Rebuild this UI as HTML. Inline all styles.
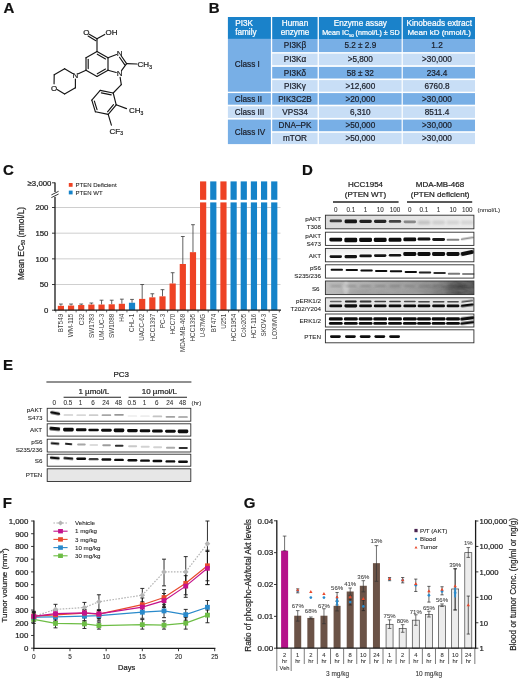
<!DOCTYPE html>
<html lang="en"><head><meta charset="utf-8"><title>Figure</title>
<style>
html,body{margin:0;padding:0;background:#fff;}
body{width:520px;height:678px;overflow:hidden;position:relative;}
svg{position:absolute;left:0;top:0;display:block;}
svg text{font-family:"Liberation Sans", Arial, Helvetica, sans-serif;}
</style></head><body>
<svg width="520" height="678" viewBox="0 0 520 678">
<defs>
<filter id="bl" x="-20%" y="-80%" width="140%" height="260%"><feGaussianBlur stdDeviation="0.55"/></filter>
<filter id="bl2" x="-20%" y="-80%" width="140%" height="260%"><feGaussianBlur stdDeviation="0.9"/></filter>
<filter id="bl3" x="-20%" y="-50%" width="140%" height="200%"><feGaussianBlur stdDeviation="3"/></filter>
<filter id="noise" x="0" y="0" width="100%" height="100%"><feTurbulence type="fractalNoise" baseFrequency="0.07 0.16" numOctaves="3" seed="7" result="n"/><feColorMatrix in="n" type="matrix" values="0 0 0 0 0.45  0 0 0 0 0.45  0 0 0 0 0.45  1.6 0 0 0 -0.55"/></filter>
</defs>
<rect width="520" height="678" fill="#fff"/>
<g id="panelA">
<text x="3.5" y="13.3" font-size="15" text-anchor="start" fill="#111" stroke="#111" stroke-width="0.22" font-weight="bold">A</text>
<g stroke="#161616" stroke-width="1.15" fill="none" stroke-linecap="round">
<path d="M97.00 51.50L108.00 57.80"/>
<path d="M97.30 54.20L105.52 58.91"/>
<path d="M108.00 57.80L108.00 70.20"/>
<path d="M108.00 70.20L97.00 76.50"/>
<path d="M105.52 69.09L97.30 73.80"/>
<path d="M97.00 76.50L86.00 70.20"/>
<path d="M86.00 70.20L86.00 57.80"/>
<path d="M88.20 68.60L88.20 59.40"/>
<path d="M86.00 57.80L97.00 51.50"/>
<path d="M97.00 51.50L97.00 38.80"/>
<path d="M97.00 38.80L89.23 34.23"/>
<path d="M95.88 40.70L88.11 36.12"/>
<path d="M97.00 38.80L104.72 34.39"/>
<path d="M108.00 57.80L116.51 54.54"/>
<path d="M121.33 56.03L126.60 63.60"/>
<path d="M119.52 57.28L124.79 64.86"/>
<path d="M126.60 63.60L121.49 70.65"/>
<path d="M116.22 72.49L108.00 70.20"/>
<path d="M126.60 63.60L137.00 64.00"/>
<path d="M86.00 70.20L78.32 73.68"/>
<path d="M72.64 73.39L64.60 68.70"/>
<path d="M64.60 68.70L54.20 74.80"/>
<path d="M54.20 74.80L54.06 83.80"/>
<path d="M57.11 89.62L64.60 94.00"/>
<path d="M64.60 94.00L75.40 87.80"/>
<path d="M75.40 87.80L75.40 79.00"/>
<path d="M120.13 77.35L121.30 84.60"/>
<path d="M121.30 84.60L113.20 93.00"/>
<path d="M113.20 93.00L100.20 90.40"/>
<path d="M111.20 94.84L101.34 92.87"/>
<path d="M100.20 90.40L91.80 100.20"/>
<path d="M91.80 100.20L95.40 111.80"/>
<path d="M94.38 101.08L97.03 109.62"/>
<path d="M95.40 111.80L108.20 114.40"/>
<path d="M108.20 114.40L116.20 104.80"/>
<path d="M107.53 111.76L113.49 104.62"/>
<path d="M116.20 104.80L113.20 93.00"/>
<path d="M116.20 104.80L126.50 108.60"/>
<path d="M108.20 114.40L111.40 125.20"/>
</g>
<text x="86.3" y="35.4" font-size="8" text-anchor="middle" fill="#222" stroke="#222" stroke-width="0.22">O</text>
<text x="105.6" y="35.2" font-size="8" text-anchor="start" fill="#222" stroke="#222" stroke-width="0.22">OH</text>
<text x="119.6" y="56.3" font-size="8" text-anchor="middle" fill="#222" stroke="#222" stroke-width="0.22">N</text>
<text x="119.6" y="76.4" font-size="8" text-anchor="middle" fill="#222" stroke="#222" stroke-width="0.22">N</text>
<text x="75.5" y="78.0" font-size="8" text-anchor="middle" fill="#222" stroke="#222" stroke-width="0.22">N</text>
<text x="54.0" y="90.9" font-size="8" text-anchor="middle" fill="#222" stroke="#222" stroke-width="0.22">O</text>
<text x="137.6" y="67.2" font-size="8" text-anchor="start" fill="#222" stroke="#222" stroke-width="0.22">CH<tspan font-size="5" dy="1.6">3</tspan></text>
<text x="129.0" y="113.4" font-size="8" text-anchor="start" fill="#222" stroke="#222" stroke-width="0.22">CH<tspan font-size="5" dy="1.6">3</tspan></text>
<text x="109.6" y="133.8" font-size="8" text-anchor="start" fill="#222" stroke="#222" stroke-width="0.22">CF<tspan font-size="5" dy="1.6">3</tspan></text>
</g>
<g id="panelB">
<text x="208.7" y="12.9" font-size="15" text-anchor="start" fill="#111" stroke="#111" stroke-width="0.22" font-weight="bold">B</text>
<rect x="227.90" y="17.00" width="43.00" height="22.00" fill="#1a82ca"/>
<rect x="272.20" y="17.00" width="45.40" height="22.00" fill="#1a82ca"/>
<rect x="318.90" y="17.00" width="82.70" height="22.00" fill="#1a82ca"/>
<rect x="402.80" y="17.00" width="72.20" height="22.00" fill="#1a82ca"/>
<text x="235.2" y="25.5" font-size="8.2" text-anchor="start" fill="#fff" stroke="#fff" stroke-width="0.22">PI3K</text>
<text x="235.2" y="35.3" font-size="8.2" text-anchor="start" fill="#fff" stroke="#fff" stroke-width="0.22">family</text>
<text x="295.0" y="25.5" font-size="8.2" text-anchor="middle" fill="#fff" stroke="#fff" stroke-width="0.22">Human</text>
<text x="295.0" y="35.3" font-size="8.2" text-anchor="middle" fill="#fff" stroke="#fff" stroke-width="0.22">enzyme</text>
<text x="360.3" y="25.5" font-size="8.2" text-anchor="middle" fill="#fff" stroke="#fff" stroke-width="0.22">Enzyme assay</text>
<text x="360.9" y="35.3" font-size="7.15" text-anchor="middle" fill="#fff" stroke="#fff" stroke-width="0.22">Mean IC<tspan font-size="4" dy="1.2">50</tspan><tspan dy="-1.2"> (nmol/L) ± SD</tspan></text>
<text x="439.2" y="25.5" font-size="8.2" text-anchor="middle" fill="#fff" stroke="#fff" stroke-width="0.22">Kinobeads extract</text>
<text x="439.2" y="35.3" font-size="8.0" text-anchor="middle" fill="#fff" stroke="#fff" stroke-width="0.22">Mean kD (nmol/L)</text>
<rect x="227.90" y="38.80" width="43.00" height="52.90" fill="#78afe6"/>
<rect x="227.90" y="93.10" width="43.00" height="11.60" fill="#78afe6"/>
<rect x="227.90" y="106.30" width="43.00" height="11.60" fill="#c8def6"/>
<rect x="227.90" y="119.60" width="43.00" height="24.50" fill="#78afe6"/>
<text x="234.8" y="67.3" font-size="8.2" text-anchor="start" fill="#1b1f2a" stroke="#1b1f2a" stroke-width="0.22">Class I</text>
<text x="234.8" y="101.9" font-size="8.2" text-anchor="start" fill="#1b1f2a" stroke="#1b1f2a" stroke-width="0.22">Class II</text>
<text x="234.8" y="115.1" font-size="8.2" text-anchor="start" fill="#1b1f2a" stroke="#1b1f2a" stroke-width="0.22">Class III</text>
<text x="234.8" y="134.9" font-size="8.2" text-anchor="start" fill="#1b1f2a" stroke="#1b1f2a" stroke-width="0.22">Class IV</text>
<rect x="272.20" y="39.00" width="45.40" height="13.10" fill="#78afe6"/>
<rect x="318.90" y="39.00" width="82.70" height="13.10" fill="#78afe6"/>
<rect x="402.80" y="39.00" width="72.20" height="13.10" fill="#78afe6"/>
<text x="295.0" y="48.449999999999996" font-size="8.2" text-anchor="middle" fill="#1b1f2a" stroke="#1b1f2a" stroke-width="0.22">PI3Kβ</text>
<text x="360.3" y="48.449999999999996" font-size="8.2" text-anchor="middle" fill="#1b1f2a" stroke="#1b1f2a" stroke-width="0.22">5.2 ± 2.9</text>
<text x="437.0" y="48.449999999999996" font-size="8.2" text-anchor="middle" fill="#1b1f2a" stroke="#1b1f2a" stroke-width="0.22">1.2</text>
<rect x="272.20" y="53.60" width="45.40" height="11.60" fill="#c8def6"/>
<rect x="318.90" y="53.60" width="82.70" height="11.60" fill="#c8def6"/>
<rect x="402.80" y="53.60" width="72.20" height="11.60" fill="#c8def6"/>
<text x="295.0" y="62.3" font-size="8.2" text-anchor="middle" fill="#1b1f2a" stroke="#1b1f2a" stroke-width="0.22">PI3Kα</text>
<text x="360.3" y="62.3" font-size="8.2" text-anchor="middle" fill="#1b1f2a" stroke="#1b1f2a" stroke-width="0.22">&gt;5,800</text>
<text x="437.0" y="62.3" font-size="8.2" text-anchor="middle" fill="#1b1f2a" stroke="#1b1f2a" stroke-width="0.22">&gt;30,000</text>
<rect x="272.20" y="66.90" width="45.40" height="11.60" fill="#78afe6"/>
<rect x="318.90" y="66.90" width="82.70" height="11.60" fill="#78afe6"/>
<rect x="402.80" y="66.90" width="72.20" height="11.60" fill="#78afe6"/>
<text x="295.0" y="75.60000000000001" font-size="8.2" text-anchor="middle" fill="#1b1f2a" stroke="#1b1f2a" stroke-width="0.22">PI3Kδ</text>
<text x="360.3" y="75.60000000000001" font-size="8.2" text-anchor="middle" fill="#1b1f2a" stroke="#1b1f2a" stroke-width="0.22">58 ± 32</text>
<text x="437.0" y="75.60000000000001" font-size="8.2" text-anchor="middle" fill="#1b1f2a" stroke="#1b1f2a" stroke-width="0.22">234.4</text>
<rect x="272.20" y="80.10" width="45.40" height="11.60" fill="#c8def6"/>
<rect x="318.90" y="80.10" width="82.70" height="11.60" fill="#c8def6"/>
<rect x="402.80" y="80.10" width="72.20" height="11.60" fill="#c8def6"/>
<text x="295.0" y="88.8" font-size="8.2" text-anchor="middle" fill="#1b1f2a" stroke="#1b1f2a" stroke-width="0.22">PI3Kγ</text>
<text x="360.3" y="88.8" font-size="8.2" text-anchor="middle" fill="#1b1f2a" stroke="#1b1f2a" stroke-width="0.22">&gt;12,600</text>
<text x="437.0" y="88.8" font-size="8.2" text-anchor="middle" fill="#1b1f2a" stroke="#1b1f2a" stroke-width="0.22">6760.8</text>
<rect x="272.20" y="93.10" width="45.40" height="11.60" fill="#78afe6"/>
<rect x="318.90" y="93.10" width="82.70" height="11.60" fill="#78afe6"/>
<rect x="402.80" y="93.10" width="72.20" height="11.60" fill="#78afe6"/>
<text x="295.0" y="101.8" font-size="8.2" text-anchor="middle" fill="#1b1f2a" stroke="#1b1f2a" stroke-width="0.22">PIK3C2B</text>
<text x="360.3" y="101.8" font-size="8.2" text-anchor="middle" fill="#1b1f2a" stroke="#1b1f2a" stroke-width="0.22">&gt;20,000</text>
<text x="437.0" y="101.8" font-size="8.2" text-anchor="middle" fill="#1b1f2a" stroke="#1b1f2a" stroke-width="0.22">&gt;30,000</text>
<rect x="272.20" y="106.30" width="45.40" height="11.60" fill="#c8def6"/>
<rect x="318.90" y="106.30" width="82.70" height="11.60" fill="#c8def6"/>
<rect x="402.80" y="106.30" width="72.20" height="11.60" fill="#c8def6"/>
<text x="295.0" y="115.0" font-size="8.2" text-anchor="middle" fill="#1b1f2a" stroke="#1b1f2a" stroke-width="0.22">VPS34</text>
<text x="360.3" y="115.0" font-size="8.2" text-anchor="middle" fill="#1b1f2a" stroke="#1b1f2a" stroke-width="0.22">6,310</text>
<text x="437.0" y="115.0" font-size="8.2" text-anchor="middle" fill="#1b1f2a" stroke="#1b1f2a" stroke-width="0.22">8511.4</text>
<rect x="272.20" y="119.60" width="45.40" height="11.60" fill="#78afe6"/>
<rect x="318.90" y="119.60" width="82.70" height="11.60" fill="#78afe6"/>
<rect x="402.80" y="119.60" width="72.20" height="11.60" fill="#78afe6"/>
<text x="295.0" y="128.29999999999998" font-size="8.2" text-anchor="middle" fill="#1b1f2a" stroke="#1b1f2a" stroke-width="0.22">DNA–PK</text>
<text x="360.3" y="128.29999999999998" font-size="8.2" text-anchor="middle" fill="#1b1f2a" stroke="#1b1f2a" stroke-width="0.22">&gt;50,000</text>
<text x="437.0" y="128.29999999999998" font-size="8.2" text-anchor="middle" fill="#1b1f2a" stroke="#1b1f2a" stroke-width="0.22">&gt;30,000</text>
<rect x="272.20" y="132.80" width="45.40" height="11.30" fill="#c8def6"/>
<rect x="318.90" y="132.80" width="82.70" height="11.30" fill="#c8def6"/>
<rect x="402.80" y="132.80" width="72.20" height="11.30" fill="#c8def6"/>
<text x="295.0" y="141.35000000000002" font-size="8.2" text-anchor="middle" fill="#1b1f2a" stroke="#1b1f2a" stroke-width="0.22">mTOR</text>
<text x="360.3" y="141.35000000000002" font-size="8.2" text-anchor="middle" fill="#1b1f2a" stroke="#1b1f2a" stroke-width="0.22">&gt;50,000</text>
<text x="437.0" y="141.35000000000002" font-size="8.2" text-anchor="middle" fill="#1b1f2a" stroke="#1b1f2a" stroke-width="0.22">&gt;30,000</text>
</g>
<g id="panelC">
<text x="3.1" y="174.7" font-size="15" text-anchor="start" fill="#111" stroke="#111" stroke-width="0.22" font-weight="bold">C</text>
<line x1="55.0" y1="284.525" x2="280.5" y2="284.525" stroke="#c2c2c2" stroke-width="0.8"/>
<line x1="55.0" y1="258.85" x2="280.5" y2="258.85" stroke="#c2c2c2" stroke-width="0.8"/>
<line x1="55.0" y1="233.175" x2="280.5" y2="233.175" stroke="#c2c2c2" stroke-width="0.8"/>
<line x1="55.0" y1="207.5" x2="280.5" y2="207.5" stroke="#c2c2c2" stroke-width="0.8"/>
<line x1="60.90" y1="305.84" x2="60.90" y2="304.04" stroke="#3a3a3a" stroke-width="0.8"/>
<line x1="59.00" y1="304.04" x2="62.80" y2="304.04" stroke="#3a3a3a" stroke-width="0.8"/>
<rect x="57.80" y="305.84" width="6.20" height="4.36" fill="#ee4224"/>
<text transform="translate(63.20 313.8) rotate(-90)" font-size="6.3" text-anchor="end" fill="#3a3a3a">BT549</text>
<line x1="71.06" y1="305.58" x2="71.06" y2="304.04" stroke="#3a3a3a" stroke-width="0.8"/>
<line x1="69.16" y1="304.04" x2="72.96" y2="304.04" stroke="#3a3a3a" stroke-width="0.8"/>
<rect x="67.96" y="305.58" width="6.20" height="4.62" fill="#ee4224"/>
<text transform="translate(73.36 313.8) rotate(-90)" font-size="6.3" text-anchor="end" fill="#3a3a3a">WM-115</text>
<line x1="81.22" y1="305.06" x2="81.22" y2="304.04" stroke="#3a3a3a" stroke-width="0.8"/>
<line x1="79.32" y1="304.04" x2="83.12" y2="304.04" stroke="#3a3a3a" stroke-width="0.8"/>
<rect x="78.12" y="305.06" width="6.20" height="5.13" fill="#ee4224"/>
<text transform="translate(83.52 313.8) rotate(-90)" font-size="6.3" text-anchor="end" fill="#3a3a3a">C32</text>
<line x1="91.38" y1="304.55" x2="91.38" y2="303.01" stroke="#3a3a3a" stroke-width="0.8"/>
<line x1="89.48" y1="303.01" x2="93.28" y2="303.01" stroke="#3a3a3a" stroke-width="0.8"/>
<rect x="88.28" y="304.55" width="6.20" height="5.65" fill="#ee4224"/>
<text transform="translate(93.68 313.8) rotate(-90)" font-size="6.3" text-anchor="end" fill="#3a3a3a">SW1783</text>
<line x1="101.54" y1="304.55" x2="101.54" y2="300.19" stroke="#3a3a3a" stroke-width="0.8"/>
<line x1="99.64" y1="300.19" x2="103.44" y2="300.19" stroke="#3a3a3a" stroke-width="0.8"/>
<rect x="98.44" y="304.55" width="6.20" height="5.65" fill="#ee4224"/>
<text transform="translate(103.84 313.8) rotate(-90)" font-size="6.3" text-anchor="end" fill="#3a3a3a">UM-UC-3</text>
<line x1="111.70" y1="304.29" x2="111.70" y2="300.19" stroke="#3a3a3a" stroke-width="0.8"/>
<line x1="109.80" y1="300.19" x2="113.60" y2="300.19" stroke="#3a3a3a" stroke-width="0.8"/>
<rect x="108.60" y="304.29" width="6.20" height="5.91" fill="#ee4224"/>
<text transform="translate(114.00 313.8) rotate(-90)" font-size="6.3" text-anchor="end" fill="#3a3a3a">SW1088</text>
<line x1="121.86" y1="303.78" x2="121.86" y2="299.16" stroke="#3a3a3a" stroke-width="0.8"/>
<line x1="119.96" y1="299.16" x2="123.76" y2="299.16" stroke="#3a3a3a" stroke-width="0.8"/>
<rect x="118.76" y="303.78" width="6.20" height="6.42" fill="#ee4224"/>
<text transform="translate(124.16 313.8) rotate(-90)" font-size="6.3" text-anchor="end" fill="#3a3a3a">H4</text>
<line x1="132.02" y1="302.75" x2="132.02" y2="299.42" stroke="#3a3a3a" stroke-width="0.8"/>
<line x1="130.12" y1="299.42" x2="133.92" y2="299.42" stroke="#3a3a3a" stroke-width="0.8"/>
<rect x="128.92" y="302.75" width="6.20" height="7.45" fill="#1583c9"/>
<text transform="translate(134.32 313.8) rotate(-90)" font-size="6.3" text-anchor="end" fill="#3a3a3a">CHL-1</text>
<line x1="142.18" y1="298.90" x2="142.18" y2="284.52" stroke="#3a3a3a" stroke-width="0.8"/>
<line x1="140.28" y1="284.52" x2="144.08" y2="284.52" stroke="#3a3a3a" stroke-width="0.8"/>
<rect x="139.08" y="298.90" width="6.20" height="11.30" fill="#ee4224"/>
<text transform="translate(144.48 313.8) rotate(-90)" font-size="6.3" text-anchor="end" fill="#3a3a3a">UACC-62</text>
<line x1="152.34" y1="297.36" x2="152.34" y2="293.77" stroke="#3a3a3a" stroke-width="0.8"/>
<line x1="150.44" y1="293.77" x2="154.24" y2="293.77" stroke="#3a3a3a" stroke-width="0.8"/>
<rect x="149.24" y="297.36" width="6.20" height="12.84" fill="#ee4224"/>
<text transform="translate(154.64 313.8) rotate(-90)" font-size="6.3" text-anchor="end" fill="#3a3a3a">HCC1397</text>
<line x1="162.50" y1="296.34" x2="162.50" y2="289.66" stroke="#3a3a3a" stroke-width="0.8"/>
<line x1="160.60" y1="289.66" x2="164.40" y2="289.66" stroke="#3a3a3a" stroke-width="0.8"/>
<rect x="159.40" y="296.34" width="6.20" height="13.86" fill="#ee4224"/>
<text transform="translate(164.80 313.8) rotate(-90)" font-size="6.3" text-anchor="end" fill="#3a3a3a">PC-3</text>
<line x1="172.66" y1="283.50" x2="172.66" y2="272.71" stroke="#3a3a3a" stroke-width="0.8"/>
<line x1="170.76" y1="272.71" x2="174.56" y2="272.71" stroke="#3a3a3a" stroke-width="0.8"/>
<rect x="169.56" y="283.50" width="6.20" height="26.70" fill="#ee4224"/>
<text transform="translate(174.96 313.8) rotate(-90)" font-size="6.3" text-anchor="end" fill="#3a3a3a">HCC70</text>
<line x1="182.82" y1="263.99" x2="182.82" y2="236.51" stroke="#3a3a3a" stroke-width="0.8"/>
<line x1="180.92" y1="236.51" x2="184.72" y2="236.51" stroke="#3a3a3a" stroke-width="0.8"/>
<rect x="179.72" y="263.99" width="6.20" height="46.21" fill="#ee4224"/>
<text transform="translate(185.12 313.8) rotate(-90)" font-size="6.3" text-anchor="end" fill="#3a3a3a">MDA-MB-468</text>
<line x1="192.98" y1="252.17" x2="192.98" y2="224.70" stroke="#3a3a3a" stroke-width="0.8"/>
<line x1="191.08" y1="224.70" x2="194.88" y2="224.70" stroke="#3a3a3a" stroke-width="0.8"/>
<rect x="189.88" y="252.17" width="6.20" height="58.03" fill="#ee4224"/>
<text transform="translate(195.28 313.8) rotate(-90)" font-size="6.3" text-anchor="end" fill="#3a3a3a">HCC1395</text>
<rect x="200.04" y="181.40" width="6.20" height="18.40" fill="#ee4224"/>
<rect x="200.04" y="202.40" width="6.20" height="107.80" fill="#ee4224"/>
<text transform="translate(205.44 313.8) rotate(-90)" font-size="6.3" text-anchor="end" fill="#3a3a3a">U-87MG</text>
<rect x="210.20" y="181.40" width="6.20" height="18.40" fill="#1583c9"/>
<rect x="210.20" y="202.40" width="6.20" height="107.80" fill="#1583c9"/>
<text transform="translate(215.60 313.8) rotate(-90)" font-size="6.3" text-anchor="end" fill="#3a3a3a">BT474</text>
<rect x="220.36" y="181.40" width="6.20" height="18.40" fill="#ee4224"/>
<rect x="220.36" y="202.40" width="6.20" height="107.80" fill="#ee4224"/>
<text transform="translate(225.76 313.8) rotate(-90)" font-size="6.3" text-anchor="end" fill="#3a3a3a">U251</text>
<rect x="230.52" y="181.40" width="6.20" height="18.40" fill="#1583c9"/>
<rect x="230.52" y="202.40" width="6.20" height="107.80" fill="#1583c9"/>
<text transform="translate(235.92 313.8) rotate(-90)" font-size="6.3" text-anchor="end" fill="#3a3a3a">HCC1954</text>
<rect x="240.68" y="181.40" width="6.20" height="18.40" fill="#1583c9"/>
<rect x="240.68" y="202.40" width="6.20" height="107.80" fill="#1583c9"/>
<text transform="translate(246.08 313.8) rotate(-90)" font-size="6.3" text-anchor="end" fill="#3a3a3a">Colo205</text>
<rect x="250.84" y="181.40" width="6.20" height="18.40" fill="#1583c9"/>
<rect x="250.84" y="202.40" width="6.20" height="107.80" fill="#1583c9"/>
<text transform="translate(256.24 313.8) rotate(-90)" font-size="6.3" text-anchor="end" fill="#3a3a3a">HCT-116</text>
<rect x="261.00" y="181.40" width="6.20" height="18.40" fill="#1583c9"/>
<rect x="261.00" y="202.40" width="6.20" height="107.80" fill="#1583c9"/>
<text transform="translate(266.40 313.8) rotate(-90)" font-size="6.3" text-anchor="end" fill="#3a3a3a">SKOV-3</text>
<rect x="271.16" y="181.40" width="6.20" height="18.40" fill="#1583c9"/>
<rect x="271.16" y="202.40" width="6.20" height="107.80" fill="#1583c9"/>
<text transform="translate(276.56 313.8) rotate(-90)" font-size="6.3" text-anchor="end" fill="#3a3a3a">LOXIMVI</text>
<line x1="55.0" y1="182.4" x2="55.0" y2="310.8" stroke="#1a1a1a" stroke-width="1.3"/>
<line x1="54.4" y1="310.2" x2="281" y2="310.2" stroke="#1a1a1a" stroke-width="1.3"/>
<line x1="52.0" y1="310.2" x2="55.0" y2="310.2" stroke="#222" stroke-width="0.9"/>
<text x="48.4" y="313.0" font-size="7.8" text-anchor="end" fill="#222" stroke="#222" stroke-width="0.22">0</text>
<line x1="52.0" y1="284.525" x2="55.0" y2="284.525" stroke="#222" stroke-width="0.9"/>
<text x="48.4" y="287.325" font-size="7.8" text-anchor="end" fill="#222" stroke="#222" stroke-width="0.22">50</text>
<line x1="52.0" y1="258.85" x2="55.0" y2="258.85" stroke="#222" stroke-width="0.9"/>
<text x="48.4" y="261.65000000000003" font-size="7.8" text-anchor="end" fill="#222" stroke="#222" stroke-width="0.22">100</text>
<line x1="52.0" y1="233.175" x2="55.0" y2="233.175" stroke="#222" stroke-width="0.9"/>
<text x="48.4" y="235.97500000000002" font-size="7.8" text-anchor="end" fill="#222" stroke="#222" stroke-width="0.22">150</text>
<line x1="52.0" y1="207.5" x2="55.0" y2="207.5" stroke="#222" stroke-width="0.9"/>
<text x="48.4" y="210.3" font-size="7.8" text-anchor="end" fill="#222" stroke="#222" stroke-width="0.22">200</text>
<line x1="52.0" y1="182.8" x2="55.0" y2="182.8" stroke="#222" stroke-width="0.9"/>
<text x="51.4" y="185.6" font-size="7.8" text-anchor="end" fill="#222" stroke="#222" stroke-width="0.22">≥3,000</text>
<line x1="55.82" y1="310.2" x2="55.82" y2="312.4" stroke="#222" stroke-width="0.7"/>
<line x1="65.98" y1="310.2" x2="65.98" y2="312.4" stroke="#222" stroke-width="0.7"/>
<line x1="76.14" y1="310.2" x2="76.14" y2="312.4" stroke="#222" stroke-width="0.7"/>
<line x1="86.30" y1="310.2" x2="86.30" y2="312.4" stroke="#222" stroke-width="0.7"/>
<line x1="96.46" y1="310.2" x2="96.46" y2="312.4" stroke="#222" stroke-width="0.7"/>
<line x1="106.62" y1="310.2" x2="106.62" y2="312.4" stroke="#222" stroke-width="0.7"/>
<line x1="116.78" y1="310.2" x2="116.78" y2="312.4" stroke="#222" stroke-width="0.7"/>
<line x1="126.94" y1="310.2" x2="126.94" y2="312.4" stroke="#222" stroke-width="0.7"/>
<line x1="137.10" y1="310.2" x2="137.10" y2="312.4" stroke="#222" stroke-width="0.7"/>
<line x1="147.26" y1="310.2" x2="147.26" y2="312.4" stroke="#222" stroke-width="0.7"/>
<line x1="157.42" y1="310.2" x2="157.42" y2="312.4" stroke="#222" stroke-width="0.7"/>
<line x1="167.58" y1="310.2" x2="167.58" y2="312.4" stroke="#222" stroke-width="0.7"/>
<line x1="177.74" y1="310.2" x2="177.74" y2="312.4" stroke="#222" stroke-width="0.7"/>
<line x1="187.90" y1="310.2" x2="187.90" y2="312.4" stroke="#222" stroke-width="0.7"/>
<line x1="198.06" y1="310.2" x2="198.06" y2="312.4" stroke="#222" stroke-width="0.7"/>
<line x1="208.22" y1="310.2" x2="208.22" y2="312.4" stroke="#222" stroke-width="0.7"/>
<line x1="218.38" y1="310.2" x2="218.38" y2="312.4" stroke="#222" stroke-width="0.7"/>
<line x1="228.54" y1="310.2" x2="228.54" y2="312.4" stroke="#222" stroke-width="0.7"/>
<line x1="238.70" y1="310.2" x2="238.70" y2="312.4" stroke="#222" stroke-width="0.7"/>
<line x1="248.86" y1="310.2" x2="248.86" y2="312.4" stroke="#222" stroke-width="0.7"/>
<line x1="259.02" y1="310.2" x2="259.02" y2="312.4" stroke="#222" stroke-width="0.7"/>
<line x1="269.18" y1="310.2" x2="269.18" y2="312.4" stroke="#222" stroke-width="0.7"/>
<line x1="279.34" y1="310.2" x2="279.34" y2="312.4" stroke="#222" stroke-width="0.7"/>
<rect x="52.00" y="192.00" width="6.00" height="4.80" fill="#fff"/>
<line x1="51.4" y1="194.9" x2="58.6" y2="191.3" stroke="#222" stroke-width="0.9"/>
<line x1="51.4" y1="197.6" x2="58.6" y2="194.0" stroke="#222" stroke-width="0.9"/>
<rect x="68.80" y="183.00" width="3.80" height="3.80" fill="#ee4224"/>
<text x="75.6" y="187.2" font-size="6" text-anchor="start" fill="#222" stroke="#222" stroke-width="0.08">PTEN Deficient</text>
<rect x="68.80" y="190.60" width="3.80" height="3.80" fill="#1583c9"/>
<text x="75.6" y="194.8" font-size="6" text-anchor="start" fill="#222" stroke="#222" stroke-width="0.08">PTEN WT</text>
<text transform="translate(23.8 243.4) rotate(-90)" font-size="8.4" text-anchor="middle" fill="#222" stroke="#222" stroke-width="0.2">Mean EC<tspan font-size="4.6" dy="1.4">50</tspan><tspan dy="-1.4"> (nmol/L)</tspan></text>
</g>
<g id="panelD">
<text x="302.0" y="175.0" font-size="15" text-anchor="start" fill="#111" stroke="#111" stroke-width="0.22" font-weight="bold">D</text>
<text x="365.5" y="186.6" font-size="8" text-anchor="middle" fill="#222" stroke="#222" stroke-width="0.22">HCC1954</text>
<text x="365.5" y="196.6" font-size="8" text-anchor="middle" fill="#222" stroke="#222" stroke-width="0.22">(PTEN WT)</text>
<text x="440.0" y="186.6" font-size="8" text-anchor="middle" fill="#222" stroke="#222" stroke-width="0.22">MDA-MB-468</text>
<text x="440.2" y="196.6" font-size="8" text-anchor="middle" fill="#222" stroke="#222" stroke-width="0.22">(PTEN deficient)</text>
<line x1="333" y1="201.9" x2="398.6" y2="201.9" stroke="#222" stroke-width="1.5"/>
<line x1="407" y1="201.9" x2="472.2" y2="201.9" stroke="#222" stroke-width="1.5"/>
<text x="335.8" y="211.8" font-size="6.3" text-anchor="middle" fill="#333" stroke="#333" stroke-width="0.08">0</text>
<text x="350.8" y="211.8" font-size="6.3" text-anchor="middle" fill="#333" stroke="#333" stroke-width="0.08">0.1</text>
<text x="365.6" y="211.8" font-size="6.3" text-anchor="middle" fill="#333" stroke="#333" stroke-width="0.08">1</text>
<text x="380.2" y="211.8" font-size="6.3" text-anchor="middle" fill="#333" stroke="#333" stroke-width="0.08">10</text>
<text x="395.0" y="211.8" font-size="6.3" text-anchor="middle" fill="#333" stroke="#333" stroke-width="0.08">100</text>
<text x="409.8" y="211.8" font-size="6.3" text-anchor="middle" fill="#333" stroke="#333" stroke-width="0.08">0</text>
<text x="424.0" y="211.8" font-size="6.3" text-anchor="middle" fill="#333" stroke="#333" stroke-width="0.08">0.1</text>
<text x="438.6" y="211.8" font-size="6.3" text-anchor="middle" fill="#333" stroke="#333" stroke-width="0.08">1</text>
<text x="453.0" y="211.8" font-size="6.3" text-anchor="middle" fill="#333" stroke="#333" stroke-width="0.08">10</text>
<text x="467.2" y="211.8" font-size="6.3" text-anchor="middle" fill="#333" stroke="#333" stroke-width="0.08">100</text>
<text x="477.4" y="211.8" font-size="6.2" text-anchor="start" fill="#333" stroke="#333" stroke-width="0.08">(nmol/L)</text>
<linearGradient id="gD1" x1="0" x2="1"><stop offset="0" stop-color="#dadada"/><stop offset="1" stop-color="#ebebeb"/></linearGradient>
<rect x="325.40" y="215.20" width="148.50" height="13.60" fill="url(#gD1)" stroke="#2e2e2e" stroke-width="0.9"/>
<rect x="329.60" y="219.60" width="12.40" height="2.60" rx="1.30" fill="#0a0a0a" opacity="0.78" filter="url(#bl)"/>
<rect x="344.60" y="219.50" width="12.40" height="3.80" rx="1.40" fill="#0a0a0a" opacity="0.95" filter="url(#bl)"/>
<rect x="359.40" y="219.80" width="12.40" height="3.20" rx="1.40" fill="#0a0a0a" opacity="0.9" filter="url(#bl)"/>
<rect x="374.00" y="219.80" width="12.40" height="3.20" rx="1.40" fill="#0a0a0a" opacity="0.88" filter="url(#bl)"/>
<rect x="388.80" y="220.00" width="12.40" height="2.80" rx="1.40" fill="#0a0a0a" opacity="0.75" filter="url(#bl)"/>
<rect x="403.60" y="220.40" width="12.40" height="2.80" rx="1.40" fill="#0a0a0a" opacity="0.42" filter="url(#bl)"/>
<rect x="417.80" y="220.70" width="12.40" height="3.60" rx="1.40" fill="#0a0a0a" opacity="0.17" filter="url(#bl2)"/>
<rect x="432.40" y="220.70" width="12.40" height="3.60" rx="1.40" fill="#0a0a0a" opacity="0.12" filter="url(#bl2)"/>
<rect x="446.80" y="220.70" width="12.40" height="3.60" rx="1.40" fill="#0a0a0a" opacity="0.1" filter="url(#bl2)"/>
<rect x="461.00" y="220.70" width="12.40" height="3.60" rx="1.40" fill="#0a0a0a" opacity="0.1" filter="url(#bl2)"/>
<text x="321" y="221.3" font-size="6.25" text-anchor="end" fill="#222" stroke="#222" stroke-width="0.08">pAKT</text>
<text x="321" y="228.9" font-size="6.25" text-anchor="end" fill="#222" stroke="#222" stroke-width="0.08">T308</text>
<rect x="325.40" y="232.20" width="148.50" height="13.20" fill="#fff" stroke="#2e2e2e" stroke-width="0.9"/>
<rect x="329.40" y="237.70" width="12.80" height="3.80" rx="1.40" fill="#0a0a0a" opacity="1" filter="url(#bl)"/>
<rect x="344.40" y="237.70" width="12.80" height="4.60" rx="1.40" fill="#0a0a0a" opacity="1" filter="url(#bl)"/>
<rect x="359.20" y="237.70" width="12.80" height="4.20" rx="1.40" fill="#0a0a0a" opacity="1" filter="url(#bl)"/>
<rect x="373.80" y="237.70" width="12.80" height="4.20" rx="1.40" fill="#0a0a0a" opacity="1" filter="url(#bl)"/>
<rect x="388.60" y="237.80" width="12.80" height="4.00" rx="1.40" fill="#0a0a0a" opacity="1" filter="url(#bl)"/>
<rect x="403.40" y="237.50" width="12.80" height="3.80" rx="1.40" fill="#0a0a0a" opacity="1" filter="url(#bl)"/>
<rect x="417.60" y="237.60" width="12.80" height="3.00" rx="1.40" fill="#0a0a0a" opacity="0.97" filter="url(#bl)"/>
<rect x="432.20" y="237.90" width="12.80" height="3.00" rx="1.40" fill="#0a0a0a" opacity="0.95" filter="url(#bl)"/>
<rect x="446.60" y="238.80" width="12.80" height="2.00" rx="1.00" fill="#0a0a0a" opacity="0.5" filter="url(#bl)"/>
<rect x="460.80" y="237.45" width="12.80" height="1.90" rx="0.95" fill="#0a0a0a" opacity="0.45" filter="url(#bl)" transform="rotate(-9 467.20 238.40)"/>
<text x="321" y="237.6" font-size="6.25" text-anchor="end" fill="#222" stroke="#222" stroke-width="0.08">pAKT</text>
<text x="321" y="245.7" font-size="6.25" text-anchor="end" fill="#222" stroke="#222" stroke-width="0.08">S473</text>
<linearGradient id="gD3" x1="0" x2="0" y1="0" y2="1"><stop offset="0" stop-color="#ececec"/><stop offset="0.5" stop-color="#fafafa"/><stop offset="1" stop-color="#fff"/></linearGradient>
<rect x="325.40" y="248.40" width="148.50" height="13.40" fill="url(#gD3)" stroke="#2e2e2e" stroke-width="0.9"/>
<rect x="329.60" y="255.30" width="12.40" height="2.60" rx="1.30" fill="#0a0a0a" opacity="0.97" filter="url(#bl)"/>
<rect x="344.60" y="254.90" width="12.40" height="3.40" rx="1.40" fill="#0a0a0a" opacity="0.97" filter="url(#bl)"/>
<rect x="359.40" y="254.60" width="12.40" height="2.60" rx="1.30" fill="#0a0a0a" opacity="0.97" filter="url(#bl)"/>
<rect x="374.00" y="254.30" width="12.40" height="2.60" rx="1.30" fill="#0a0a0a" opacity="0.97" filter="url(#bl)"/>
<rect x="388.80" y="253.90" width="12.40" height="2.60" rx="1.30" fill="#0a0a0a" opacity="0.97" filter="url(#bl)"/>
<rect x="403.30" y="252.05" width="13.00" height="3.90" rx="1.40" fill="#0a0a0a" opacity="1" filter="url(#bl)"/>
<rect x="417.50" y="252.05" width="13.00" height="3.90" rx="1.40" fill="#0a0a0a" opacity="1" filter="url(#bl)"/>
<rect x="432.10" y="252.05" width="13.00" height="3.90" rx="1.40" fill="#0a0a0a" opacity="1" filter="url(#bl)"/>
<rect x="446.50" y="252.05" width="13.00" height="3.90" rx="1.40" fill="#0a0a0a" opacity="1" filter="url(#bl)"/>
<rect x="460.70" y="251.05" width="13.00" height="3.90" rx="1.40" fill="#0a0a0a" opacity="1" filter="url(#bl)" transform="rotate(-12 467.20 253.00)"/>
<text x="321" y="258.0" font-size="6.25" text-anchor="end" fill="#222" stroke="#222" stroke-width="0.08">AKT</text>
<rect x="325.40" y="264.80" width="148.50" height="13.30" fill="#fff" stroke="#2e2e2e" stroke-width="0.9"/>
<rect x="330.60" y="268.70" width="12.40" height="2.00" rx="1.00" fill="#0a0a0a" opacity="1" filter="url(#bl)"/>
<rect x="345.60" y="269.00" width="12.40" height="2.00" rx="1.00" fill="#0a0a0a" opacity="1" filter="url(#bl)"/>
<rect x="360.40" y="269.40" width="12.40" height="2.00" rx="1.00" fill="#0a0a0a" opacity="1" filter="url(#bl)"/>
<rect x="375.00" y="270.10" width="12.40" height="2.00" rx="1.00" fill="#0a0a0a" opacity="1" filter="url(#bl)"/>
<rect x="389.80" y="270.30" width="12.40" height="2.00" rx="1.00" fill="#0a0a0a" opacity="1" filter="url(#bl)"/>
<rect x="404.60" y="270.90" width="12.40" height="2.00" rx="1.00" fill="#0a0a0a" opacity="1" filter="url(#bl)"/>
<rect x="418.80" y="271.40" width="12.40" height="2.00" rx="1.00" fill="#0a0a0a" opacity="0.9" filter="url(#bl)"/>
<rect x="433.40" y="272.10" width="12.40" height="2.00" rx="1.00" fill="#0a0a0a" opacity="0.85" filter="url(#bl)"/>
<rect x="447.80" y="272.70" width="12.40" height="2.00" rx="1.00" fill="#0a0a0a" opacity="0.55" filter="url(#bl)"/>
<rect x="462.00" y="273.00" width="12.40" height="2.00" rx="1.00" fill="#0a0a0a" opacity="0.5" filter="url(#bl)"/>
<text x="321" y="270.4" font-size="6.25" text-anchor="end" fill="#222" stroke="#222" stroke-width="0.08">pS6</text>
<text x="321" y="278.3" font-size="6.25" text-anchor="end" fill="#222" stroke="#222" stroke-width="0.08">S235/236</text>
<linearGradient id="gD5" x1="0" x2="1"><stop offset="0" stop-color="#bebebe"/><stop offset="0.3" stop-color="#adadad"/><stop offset="0.6" stop-color="#9a9a9a"/><stop offset="0.8" stop-color="#767676"/><stop offset="0.9" stop-color="#505050"/><stop offset="1" stop-color="#565656"/></linearGradient>
<rect x="325.40" y="281.00" width="148.50" height="13.60" fill="url(#gD5)" stroke="#2e2e2e" stroke-width="0.9"/>
<clipPath id="cD5"><rect x="326" y="281.6" width="147.8" height="12.4"/></clipPath><g clip-path="url(#cD5)">
<ellipse cx="372" cy="293" rx="30" ry="4" fill="#8c8c8c" opacity="0.55" filter="url(#bl3)"/>
<ellipse cx="346" cy="288" rx="3" ry="7" fill="#e6e6e6" opacity="0.5" filter="url(#bl2)"/>
<ellipse cx="458" cy="289" rx="12" ry="6" fill="#3c3c3c" opacity="0.6" filter="url(#bl3)"/>
<rect x="326" y="281.6" width="147.8" height="12.4" filter="url(#noise)" opacity="0.4"/>
<rect x="330.30" y="285.15" width="11.00" height="1.50" rx="0.75" fill="#333" opacity="0.3" filter="url(#bl2)"/>
<rect x="345.30" y="285.20" width="11.00" height="1.50" rx="0.75" fill="#333" opacity="0.3" filter="url(#bl2)"/>
<rect x="360.10" y="285.25" width="11.00" height="1.50" rx="0.75" fill="#333" opacity="0.3" filter="url(#bl2)"/>
<rect x="374.70" y="285.30" width="11.00" height="1.50" rx="0.75" fill="#333" opacity="0.3" filter="url(#bl2)"/>
<rect x="389.50" y="285.35" width="11.00" height="1.50" rx="0.75" fill="#333" opacity="0.3" filter="url(#bl2)"/>
<rect x="404.30" y="285.40" width="11.00" height="1.50" rx="0.75" fill="#333" opacity="0.3" filter="url(#bl2)"/>
<rect x="418.50" y="285.45" width="11.00" height="1.50" rx="0.75" fill="#333" opacity="0.3" filter="url(#bl2)"/>
<rect x="433.10" y="285.50" width="11.00" height="1.50" rx="0.75" fill="#333" opacity="0.3" filter="url(#bl2)"/>
<rect x="447.50" y="285.55" width="11.00" height="1.50" rx="0.75" fill="#333" opacity="0.3" filter="url(#bl2)"/>
<rect x="461.70" y="285.60" width="11.00" height="1.50" rx="0.75" fill="#333" opacity="0.3" filter="url(#bl2)"/>
</g>
<text x="319.6" y="290.5" font-size="6.25" text-anchor="end" fill="#222" stroke="#222" stroke-width="0.08">S6</text>
<rect x="325.40" y="297.80" width="148.50" height="13.50" fill="#e5e5e5" stroke="#2e2e2e" stroke-width="0.9"/>
<rect x="329.90" y="300.75" width="11.80" height="1.50" rx="0.75" fill="#0a0a0a" opacity="0.6" filter="url(#bl)"/>
<rect x="329.40" y="304.60" width="12.80" height="2.60" rx="1.30" fill="#0a0a0a" opacity="1" filter="url(#bl)"/>
<rect x="344.90" y="300.50" width="11.80" height="2.00" rx="1.00" fill="#0a0a0a" opacity="0.9" filter="url(#bl)"/>
<rect x="344.40" y="304.30" width="12.80" height="3.20" rx="1.40" fill="#0a0a0a" opacity="1" filter="url(#bl)"/>
<rect x="359.70" y="300.50" width="11.80" height="2.00" rx="1.00" fill="#0a0a0a" opacity="0.8" filter="url(#bl)"/>
<rect x="359.20" y="304.60" width="12.80" height="2.60" rx="1.30" fill="#0a0a0a" opacity="1" filter="url(#bl)"/>
<rect x="374.30" y="300.75" width="11.80" height="1.50" rx="0.75" fill="#0a0a0a" opacity="0.75" filter="url(#bl)"/>
<rect x="373.80" y="304.60" width="12.80" height="2.60" rx="1.30" fill="#0a0a0a" opacity="1" filter="url(#bl)"/>
<rect x="389.10" y="300.75" width="11.80" height="1.50" rx="0.75" fill="#0a0a0a" opacity="0.75" filter="url(#bl)"/>
<rect x="388.60" y="304.60" width="12.80" height="2.60" rx="1.30" fill="#0a0a0a" opacity="1" filter="url(#bl)"/>
<rect x="403.90" y="300.75" width="11.80" height="1.50" rx="0.75" fill="#0a0a0a" opacity="0.7" filter="url(#bl)"/>
<rect x="403.40" y="304.60" width="12.80" height="2.60" rx="1.30" fill="#0a0a0a" opacity="1" filter="url(#bl)"/>
<rect x="418.10" y="301.05" width="11.80" height="1.50" rx="0.75" fill="#0a0a0a" opacity="0.7" filter="url(#bl)"/>
<rect x="417.60" y="304.60" width="12.80" height="2.60" rx="1.30" fill="#0a0a0a" opacity="1" filter="url(#bl)"/>
<rect x="432.70" y="301.05" width="11.80" height="1.50" rx="0.75" fill="#0a0a0a" opacity="0.7" filter="url(#bl)"/>
<rect x="432.20" y="304.60" width="12.80" height="2.60" rx="1.30" fill="#0a0a0a" opacity="1" filter="url(#bl)"/>
<rect x="447.10" y="301.05" width="11.80" height="1.50" rx="0.75" fill="#0a0a0a" opacity="0.7" filter="url(#bl)"/>
<rect x="446.60" y="304.60" width="12.80" height="2.60" rx="1.30" fill="#0a0a0a" opacity="1" filter="url(#bl)"/>
<rect x="461.30" y="300.45" width="11.80" height="1.50" rx="0.75" fill="#0a0a0a" opacity="0.7" filter="url(#bl)" transform="rotate(-7 467.20 301.20)"/>
<rect x="460.80" y="304.00" width="12.80" height="2.60" rx="1.30" fill="#0a0a0a" opacity="1" filter="url(#bl)" transform="rotate(-7 467.20 305.30)"/>
<text x="321" y="303.3" font-size="6.25" text-anchor="end" fill="#222" stroke="#222" stroke-width="0.08">pERK1/2</text>
<text x="321" y="311.4" font-size="6.25" text-anchor="end" fill="#222" stroke="#222" stroke-width="0.08">T202/Y204</text>
<rect x="325.40" y="314.00" width="148.50" height="13.00" fill="#fff" stroke="#2e2e2e" stroke-width="0.9"/>
<rect x="328.90" y="317.25" width="13.80" height="3.30" rx="1.40" fill="#0a0a0a" opacity="1" filter="url(#bl)"/>
<rect x="328.90" y="322.05" width="13.80" height="2.70" rx="1.35" fill="#0a0a0a" opacity="1" filter="url(#bl)"/>
<rect x="343.90" y="317.25" width="13.80" height="3.30" rx="1.40" fill="#0a0a0a" opacity="1" filter="url(#bl)"/>
<rect x="343.90" y="322.05" width="13.80" height="2.70" rx="1.35" fill="#0a0a0a" opacity="1" filter="url(#bl)"/>
<rect x="358.70" y="317.25" width="13.80" height="3.30" rx="1.40" fill="#0a0a0a" opacity="1" filter="url(#bl)"/>
<rect x="358.70" y="322.05" width="13.80" height="2.70" rx="1.35" fill="#0a0a0a" opacity="1" filter="url(#bl)"/>
<rect x="373.30" y="317.25" width="13.80" height="3.30" rx="1.40" fill="#0a0a0a" opacity="1" filter="url(#bl)"/>
<rect x="373.30" y="322.05" width="13.80" height="2.70" rx="1.35" fill="#0a0a0a" opacity="1" filter="url(#bl)"/>
<rect x="388.10" y="317.25" width="13.80" height="3.30" rx="1.40" fill="#0a0a0a" opacity="1" filter="url(#bl)"/>
<rect x="388.10" y="322.05" width="13.80" height="2.70" rx="1.35" fill="#0a0a0a" opacity="1" filter="url(#bl)"/>
<rect x="402.90" y="317.25" width="13.80" height="3.30" rx="1.40" fill="#0a0a0a" opacity="1" filter="url(#bl)"/>
<rect x="402.90" y="322.05" width="13.80" height="2.70" rx="1.35" fill="#0a0a0a" opacity="1" filter="url(#bl)"/>
<rect x="417.10" y="317.25" width="13.80" height="3.30" rx="1.40" fill="#0a0a0a" opacity="1" filter="url(#bl)"/>
<rect x="417.10" y="322.05" width="13.80" height="2.70" rx="1.35" fill="#0a0a0a" opacity="1" filter="url(#bl)"/>
<rect x="431.70" y="317.25" width="13.80" height="3.30" rx="1.40" fill="#0a0a0a" opacity="1" filter="url(#bl)"/>
<rect x="431.70" y="322.05" width="13.80" height="2.70" rx="1.35" fill="#0a0a0a" opacity="1" filter="url(#bl)"/>
<rect x="446.10" y="317.25" width="13.80" height="3.30" rx="1.40" fill="#0a0a0a" opacity="1" filter="url(#bl)"/>
<rect x="446.10" y="322.05" width="13.80" height="2.70" rx="1.35" fill="#0a0a0a" opacity="1" filter="url(#bl)"/>
<rect x="460.30" y="316.75" width="13.80" height="3.30" rx="1.40" fill="#0a0a0a" opacity="1" filter="url(#bl)" transform="rotate(-7 467.20 318.40)"/>
<rect x="460.30" y="321.55" width="13.80" height="2.70" rx="1.35" fill="#0a0a0a" opacity="1" filter="url(#bl)" transform="rotate(-7 467.20 322.90)"/>
<text x="321" y="323.4" font-size="6.25" text-anchor="end" fill="#222" stroke="#222" stroke-width="0.08">ERK1/2</text>
<rect x="325.40" y="329.80" width="148.50" height="13.00" fill="#fff" stroke="#2e2e2e" stroke-width="0.9"/>
<rect x="330.00" y="335.25" width="10.80" height="2.70" rx="1.35" fill="#0a0a0a" opacity="1" filter="url(#bl)"/>
<rect x="345.00" y="335.25" width="10.80" height="2.70" rx="1.35" fill="#0a0a0a" opacity="1" filter="url(#bl)"/>
<rect x="359.80" y="335.25" width="10.80" height="2.70" rx="1.35" fill="#0a0a0a" opacity="1" filter="url(#bl)"/>
<rect x="374.40" y="335.25" width="10.80" height="2.70" rx="1.35" fill="#0a0a0a" opacity="1" filter="url(#bl)"/>
<rect x="389.20" y="335.25" width="10.80" height="2.70" rx="1.35" fill="#0a0a0a" opacity="1" filter="url(#bl)"/>
<text x="321" y="339.2" font-size="6.25" text-anchor="end" fill="#222" stroke="#222" stroke-width="0.08">PTEN</text>
</g>
<g id="panelE">
<text x="2.9" y="369.5" font-size="15" text-anchor="start" fill="#111" stroke="#111" stroke-width="0.22" font-weight="bold">E</text>
<text x="121.2" y="377.4" font-size="8" text-anchor="middle" fill="#222" stroke="#222" stroke-width="0.22">PC3</text>
<line x1="46.4" y1="382.0" x2="191.4" y2="382.0" stroke="#222" stroke-width="1.1"/>
<text x="93.8" y="394.0" font-size="8" text-anchor="middle" fill="#222" stroke="#222" stroke-width="0.22">1 µmol/L</text>
<text x="159.4" y="394.0" font-size="8" text-anchor="middle" fill="#222" stroke="#222" stroke-width="0.22">10 µmol/L</text>
<line x1="63.6" y1="397.2" x2="121.0" y2="397.2" stroke="#222" stroke-width="1.1"/>
<line x1="128.6" y1="397.2" x2="187.0" y2="397.2" stroke="#222" stroke-width="1.1"/>
<text x="54.2" y="404.7" font-size="6.3" text-anchor="middle" fill="#333" stroke="#333" stroke-width="0.08">0</text>
<text x="67.8" y="404.7" font-size="6.3" text-anchor="middle" fill="#333" stroke="#333" stroke-width="0.08">0.5</text>
<text x="80.6" y="404.7" font-size="6.3" text-anchor="middle" fill="#333" stroke="#333" stroke-width="0.08">1</text>
<text x="93.0" y="404.7" font-size="6.3" text-anchor="middle" fill="#333" stroke="#333" stroke-width="0.08">6</text>
<text x="105.8" y="404.7" font-size="6.3" text-anchor="middle" fill="#333" stroke="#333" stroke-width="0.08">24</text>
<text x="118.4" y="404.7" font-size="6.3" text-anchor="middle" fill="#333" stroke="#333" stroke-width="0.08">48</text>
<text x="131.8" y="404.7" font-size="6.3" text-anchor="middle" fill="#333" stroke="#333" stroke-width="0.08">0.5</text>
<text x="144.4" y="404.7" font-size="6.3" text-anchor="middle" fill="#333" stroke="#333" stroke-width="0.08">1</text>
<text x="156.8" y="404.7" font-size="6.3" text-anchor="middle" fill="#333" stroke="#333" stroke-width="0.08">6</text>
<text x="169.8" y="404.7" font-size="6.3" text-anchor="middle" fill="#333" stroke="#333" stroke-width="0.08">24</text>
<text x="182.4" y="404.7" font-size="6.3" text-anchor="middle" fill="#333" stroke="#333" stroke-width="0.08">48</text>
<text x="191.6" y="404.7" font-size="6.2" text-anchor="start" fill="#333" stroke="#333" stroke-width="0.08">(hr)</text>
<rect x="47.20" y="408.30" width="143.60" height="12.90" fill="#fff" stroke="#2e2e2e" stroke-width="0.9"/>
<rect x="50.30" y="411.80" width="9.80" height="2.80" rx="1.40" fill="#0a0a0a" opacity="1" filter="url(#bl)" transform="rotate(11 55.20 413.20)"/>
<rect x="63.60" y="414.15" width="9.60" height="1.70" rx="0.85" fill="#0a0a0a" opacity="0.2" filter="url(#bl)"/>
<rect x="76.40" y="414.35" width="9.60" height="1.70" rx="0.85" fill="#0a0a0a" opacity="0.16" filter="url(#bl)"/>
<rect x="88.80" y="414.35" width="9.60" height="1.70" rx="0.85" fill="#0a0a0a" opacity="0.2" filter="url(#bl)"/>
<rect x="101.60" y="414.35" width="9.60" height="1.70" rx="0.85" fill="#0a0a0a" opacity="0.36" filter="url(#bl)"/>
<rect x="114.20" y="413.95" width="9.60" height="1.70" rx="0.85" fill="#0a0a0a" opacity="0.42" filter="url(#bl)"/>
<rect x="127.60" y="415.15" width="9.60" height="1.70" rx="0.85" fill="#0a0a0a" opacity="0.07" filter="url(#bl)"/>
<rect x="140.20" y="415.35" width="9.60" height="1.70" rx="0.85" fill="#0a0a0a" opacity="0.07" filter="url(#bl)"/>
<rect x="152.60" y="415.55" width="9.60" height="1.70" rx="0.85" fill="#0a0a0a" opacity="0.24" filter="url(#bl)"/>
<rect x="165.60" y="415.95" width="9.60" height="1.70" rx="0.85" fill="#0a0a0a" opacity="0.38" filter="url(#bl)"/>
<rect x="178.20" y="416.15" width="9.60" height="1.70" rx="0.85" fill="#0a0a0a" opacity="0.42" filter="url(#bl)"/>
<text x="42.4" y="412.4" font-size="6.25" text-anchor="end" fill="#222" stroke="#222" stroke-width="0.08">pAKT</text>
<text x="42.4" y="420.0" font-size="6.25" text-anchor="end" fill="#222" stroke="#222" stroke-width="0.08">S473</text>
<rect x="47.20" y="423.80" width="143.60" height="12.30" fill="#fff" stroke="#2e2e2e" stroke-width="0.9"/>
<rect x="49.50" y="427.00" width="10.60" height="3.60" rx="1.40" fill="#0a0a0a" opacity="1" filter="url(#bl)" transform="rotate(5 54.80 428.80)"/>
<rect x="63.10" y="427.80" width="10.60" height="3.60" rx="1.40" fill="#0a0a0a" opacity="1" filter="url(#bl)"/>
<rect x="75.90" y="428.25" width="10.60" height="3.10" rx="1.40" fill="#0a0a0a" opacity="1" filter="url(#bl)"/>
<rect x="88.30" y="428.70" width="10.60" height="2.60" rx="1.30" fill="#0a0a0a" opacity="1" filter="url(#bl)"/>
<rect x="101.10" y="428.65" width="10.60" height="3.10" rx="1.40" fill="#0a0a0a" opacity="1" filter="url(#bl)"/>
<rect x="113.70" y="428.60" width="10.60" height="3.60" rx="1.40" fill="#0a0a0a" opacity="1" filter="url(#bl)"/>
<rect x="127.10" y="429.05" width="10.60" height="3.10" rx="1.40" fill="#0a0a0a" opacity="1" filter="url(#bl)"/>
<rect x="139.70" y="429.25" width="10.60" height="3.10" rx="1.40" fill="#0a0a0a" opacity="1" filter="url(#bl)"/>
<rect x="152.10" y="429.45" width="10.60" height="3.10" rx="1.40" fill="#0a0a0a" opacity="1" filter="url(#bl)"/>
<rect x="165.10" y="429.65" width="10.60" height="3.10" rx="1.40" fill="#0a0a0a" opacity="1" filter="url(#bl)"/>
<rect x="177.70" y="429.60" width="10.60" height="3.60" rx="1.40" fill="#0a0a0a" opacity="1" filter="url(#bl)"/>
<text x="42.2" y="431.9" font-size="6.25" text-anchor="end" fill="#222" stroke="#222" stroke-width="0.08">AKT</text>
<rect x="47.20" y="439.20" width="143.60" height="12.80" fill="#fff" stroke="#2e2e2e" stroke-width="0.9"/>
<rect x="50.60" y="442.50" width="8.80" height="2.00" rx="1.00" fill="#0a0a0a" opacity="1" filter="url(#bl)" transform="rotate(5 55.00 443.50)"/>
<rect x="64.90" y="442.96" width="7.40" height="2.00" rx="1.00" fill="#0a0a0a" opacity="0.9" filter="url(#bl)" transform="rotate(5 68.60 443.96)"/>
<rect x="77.10" y="443.42" width="8.60" height="2.00" rx="1.00" fill="#0a0a0a" opacity="0.36" filter="url(#bl)"/>
<rect x="89.50" y="443.88" width="8.60" height="2.00" rx="1.00" fill="#0a0a0a" opacity="0.14" filter="url(#bl)"/>
<rect x="102.30" y="444.34" width="8.60" height="2.00" rx="1.00" fill="#0a0a0a" opacity="0.4" filter="url(#bl)"/>
<rect x="114.90" y="444.80" width="8.60" height="2.00" rx="1.00" fill="#0a0a0a" opacity="0.85" filter="url(#bl)"/>
<rect x="128.10" y="445.26" width="9.00" height="2.00" rx="1.00" fill="#0a0a0a" opacity="0.22" filter="url(#bl)"/>
<rect x="140.70" y="445.72" width="9.00" height="2.00" rx="1.00" fill="#0a0a0a" opacity="0.18" filter="url(#bl)"/>
<rect x="153.10" y="446.18" width="9.00" height="2.00" rx="1.00" fill="#0a0a0a" opacity="0.18" filter="url(#bl)"/>
<rect x="166.00" y="446.64" width="9.20" height="2.00" rx="1.00" fill="#0a0a0a" opacity="0.34" filter="url(#bl)"/>
<rect x="178.60" y="447.10" width="9.20" height="2.00" rx="1.00" fill="#0a0a0a" opacity="0.85" filter="url(#bl)"/>
<text x="42.4" y="444.0" font-size="6.25" text-anchor="end" fill="#222" stroke="#222" stroke-width="0.08">pS6</text>
<text x="42.4" y="451.8" font-size="6.25" text-anchor="end" fill="#222" stroke="#222" stroke-width="0.08">S235/236</text>
<rect x="47.20" y="454.20" width="143.60" height="12.00" fill="#fff" stroke="#2e2e2e" stroke-width="0.9"/>
<rect x="49.90" y="456.80" width="9.80" height="2.40" rx="1.20" fill="#0a0a0a" opacity="1" filter="url(#bl)" transform="rotate(5 54.80 458.00)"/>
<rect x="63.50" y="457.18" width="9.80" height="2.40" rx="1.20" fill="#0a0a0a" opacity="1" filter="url(#bl)" transform="rotate(5 68.40 458.38)"/>
<rect x="76.30" y="457.56" width="9.80" height="2.40" rx="1.20" fill="#0a0a0a" opacity="1" filter="url(#bl)"/>
<rect x="88.70" y="457.94" width="9.80" height="2.40" rx="1.20" fill="#0a0a0a" opacity="0.8" filter="url(#bl)"/>
<rect x="101.50" y="458.32" width="9.80" height="2.40" rx="1.20" fill="#0a0a0a" opacity="1" filter="url(#bl)"/>
<rect x="114.10" y="458.70" width="9.80" height="2.40" rx="1.20" fill="#0a0a0a" opacity="1" filter="url(#bl)"/>
<rect x="127.50" y="459.08" width="9.80" height="2.40" rx="1.20" fill="#0a0a0a" opacity="1" filter="url(#bl)"/>
<rect x="140.10" y="459.46" width="9.80" height="2.40" rx="1.20" fill="#0a0a0a" opacity="1" filter="url(#bl)"/>
<rect x="152.50" y="459.84" width="9.80" height="2.40" rx="1.20" fill="#0a0a0a" opacity="1" filter="url(#bl)"/>
<rect x="165.50" y="460.22" width="9.80" height="2.40" rx="1.20" fill="#0a0a0a" opacity="1" filter="url(#bl)"/>
<rect x="178.10" y="460.60" width="9.80" height="2.40" rx="1.20" fill="#0a0a0a" opacity="1" filter="url(#bl)"/>
<text x="42.4" y="463.3" font-size="6.25" text-anchor="end" fill="#222" stroke="#222" stroke-width="0.08">S6</text>
<rect x="47.20" y="468.80" width="143.60" height="12.70" fill="#e7e7e7" stroke="#2e2e2e" stroke-width="0.9"/>
<text x="42.4" y="476.8" font-size="6.25" text-anchor="end" fill="#222" stroke="#222" stroke-width="0.08">PTEN</text>
</g>
<g id="panelF">
<text x="2.7" y="507.7" font-size="15" text-anchor="start" fill="#111" stroke="#111" stroke-width="0.22" font-weight="bold">F</text>
<line x1="40" y1="644.6" x2="214" y2="644.6" stroke="#efefef" stroke-width="0.6"/>
<g stroke="#1a1a1a" stroke-width="0.9">
<path d="M33.80 620.85V611.31M31.80 620.85h4M31.80 611.31h4" fill="none"/>
<path d="M55.50 614.49V604.32M53.50 614.49h4M53.50 604.32h4" fill="none"/>
<path d="M84.44 611.95V602.41M82.44 611.95h4M82.44 602.41h4" fill="none"/>
<path d="M98.92 610.04V594.78M96.92 610.04h4M96.92 594.78h4" fill="none"/>
<path d="M142.32 606.22V588.42M140.32 606.22h4M140.32 588.42h4" fill="none"/>
<path d="M164.03 585.87V559.16M162.03 585.87h4M162.03 559.16h4" fill="none"/>
<path d="M185.74 587.14V556.62M183.74 587.14h4M183.74 556.62h4" fill="none"/>
<path d="M207.44 584.60V521.00M205.44 584.60h4M205.44 521.00h4" fill="none"/>
<path d="M33.80 619.58V612.58M31.80 619.58h4M31.80 612.58h4" fill="none"/>
<path d="M55.50 618.94V610.04M53.50 618.94h4M53.50 610.04h4" fill="none"/>
<path d="M84.44 617.67V610.04M82.44 617.67h4M82.44 610.04h4" fill="none"/>
<path d="M98.92 618.94V610.04M96.92 618.94h4M96.92 610.04h4" fill="none"/>
<path d="M142.32 612.58V601.77M140.32 612.58h4M140.32 601.77h4" fill="none"/>
<path d="M164.03 607.50V593.50M162.03 607.50h4M162.03 593.50h4" fill="none"/>
<path d="M185.74 597.32V575.70M183.74 597.32h4M183.74 575.70h4" fill="none"/>
<path d="M207.44 584.60V551.53M205.44 584.60h4M205.44 551.53h4" fill="none"/>
<path d="M33.80 619.58V611.95M31.80 619.58h4M31.80 611.95h4" fill="none"/>
<path d="M55.50 618.94V610.04M53.50 618.94h4M53.50 610.04h4" fill="none"/>
<path d="M84.44 617.67V609.40M82.44 617.67h4M82.44 609.40h4" fill="none"/>
<path d="M98.92 618.31V610.04M96.92 618.31h4M96.92 610.04h4" fill="none"/>
<path d="M142.32 611.31V597.96M140.32 611.31h4M140.32 597.96h4" fill="none"/>
<path d="M164.03 606.22V589.69M162.03 606.22h4M162.03 589.69h4" fill="none"/>
<path d="M185.74 594.78V571.88M183.74 594.78h4M183.74 571.88h4" fill="none"/>
<path d="M207.44 580.78V550.26M205.44 580.78h4M205.44 550.26h4" fill="none"/>
<path d="M33.80 620.85V613.22M31.80 620.85h4M31.80 613.22h4" fill="none"/>
<path d="M55.50 621.49V612.58M53.50 621.49h4M53.50 612.58h4" fill="none"/>
<path d="M84.44 620.85V611.95M82.44 620.85h4M82.44 611.95h4" fill="none"/>
<path d="M98.92 620.85V610.68M96.92 620.85h4M96.92 610.68h4" fill="none"/>
<path d="M142.32 618.31V606.22M140.32 618.31h4M140.32 606.22h4" fill="none"/>
<path d="M164.03 617.67V604.32M162.03 617.67h4M162.03 604.32h4" fill="none"/>
<path d="M185.74 620.22V609.40M183.74 620.22h4M183.74 609.40h4" fill="none"/>
<path d="M207.44 613.86V600.50M205.44 613.86h4M205.44 600.50h4" fill="none"/>
<path d="M33.80 623.40V615.76M31.80 623.40h4M31.80 615.76h4" fill="none"/>
<path d="M55.50 627.85V620.85M53.50 627.85h4M53.50 620.85h4" fill="none"/>
<path d="M84.44 628.48V620.85M82.44 628.48h4M82.44 620.85h4" fill="none"/>
<path d="M98.92 629.12V622.12M96.92 629.12h4M96.92 622.12h4" fill="none"/>
<path d="M142.32 629.12V619.58M140.32 629.12h4M140.32 619.58h4" fill="none"/>
<path d="M164.03 629.12V620.85M162.03 629.12h4M162.03 620.85h4" fill="none"/>
<path d="M185.74 629.12V617.67M183.74 629.12h4M183.74 617.67h4" fill="none"/>
<path d="M207.44 622.76V610.04M205.44 622.76h4M205.44 610.04h4" fill="none"/>
</g>
<polyline points="33.80,616.40 55.50,609.40 84.44,607.50 98.92,601.77 142.32,595.16 164.03,571.88 185.74,571.88 207.44,543.64" fill="none" stroke="#b4b4b4" stroke-width="1.2" stroke-dasharray="1.6 1.4"/>
<path d="M33.80 613.60l2.8 2.8l-2.8 2.8l-2.8 -2.8z" fill="#b4b4b4"/>
<path d="M55.50 606.60l2.8 2.8l-2.8 2.8l-2.8 -2.8z" fill="#b4b4b4"/>
<path d="M84.44 604.70l2.8 2.8l-2.8 2.8l-2.8 -2.8z" fill="#b4b4b4"/>
<path d="M98.92 598.97l2.8 2.8l-2.8 2.8l-2.8 -2.8z" fill="#b4b4b4"/>
<path d="M142.32 592.36l2.8 2.8l-2.8 2.8l-2.8 -2.8z" fill="#b4b4b4"/>
<path d="M164.03 569.08l2.8 2.8l-2.8 2.8l-2.8 -2.8z" fill="#b4b4b4"/>
<path d="M185.74 569.08l2.8 2.8l-2.8 2.8l-2.8 -2.8z" fill="#b4b4b4"/>
<path d="M207.44 540.84l2.8 2.8l-2.8 2.8l-2.8 -2.8z" fill="#b4b4b4"/>
<polyline points="33.80,619.45 55.50,623.40 84.44,623.90 98.92,625.56 142.32,624.67 164.03,625.18 185.74,623.14 207.44,615.13" fill="none" stroke="#6dbd45" stroke-width="1.2"/>
<rect x="31.40" y="617.05" width="4.80" height="4.80" fill="#6dbd45"/>
<rect x="53.10" y="621.00" width="4.80" height="4.80" fill="#6dbd45"/>
<rect x="82.04" y="621.50" width="4.80" height="4.80" fill="#6dbd45"/>
<rect x="96.52" y="623.16" width="4.80" height="4.80" fill="#6dbd45"/>
<rect x="139.92" y="622.27" width="4.80" height="4.80" fill="#6dbd45"/>
<rect x="161.63" y="622.78" width="4.80" height="4.80" fill="#6dbd45"/>
<rect x="183.34" y="620.74" width="4.80" height="4.80" fill="#6dbd45"/>
<rect x="205.04" y="612.73" width="4.80" height="4.80" fill="#6dbd45"/>
<polyline points="33.80,617.04 55.50,616.91 84.44,616.15 98.92,615.64 142.32,612.20 164.03,610.93 185.74,614.62 207.44,607.24" fill="none" stroke="#2a8acb" stroke-width="1.2"/>
<rect x="31.40" y="614.64" width="4.80" height="4.80" fill="#2a8acb"/>
<rect x="53.10" y="614.51" width="4.80" height="4.80" fill="#2a8acb"/>
<rect x="82.04" y="613.75" width="4.80" height="4.80" fill="#2a8acb"/>
<rect x="96.52" y="613.24" width="4.80" height="4.80" fill="#2a8acb"/>
<rect x="139.92" y="609.80" width="4.80" height="4.80" fill="#2a8acb"/>
<rect x="161.63" y="608.53" width="4.80" height="4.80" fill="#2a8acb"/>
<rect x="183.34" y="612.22" width="4.80" height="4.80" fill="#2a8acb"/>
<rect x="205.04" y="604.84" width="4.80" height="4.80" fill="#2a8acb"/>
<polyline points="33.80,616.15 55.50,614.87 84.44,613.09 98.92,614.11 142.32,604.70 164.03,597.57 185.74,583.33 207.44,565.77" fill="none" stroke="#e8492c" stroke-width="1.2"/>
<rect x="31.40" y="613.75" width="4.80" height="4.80" fill="#e8492c"/>
<rect x="53.10" y="612.47" width="4.80" height="4.80" fill="#e8492c"/>
<rect x="82.04" y="610.69" width="4.80" height="4.80" fill="#e8492c"/>
<rect x="96.52" y="611.71" width="4.80" height="4.80" fill="#e8492c"/>
<rect x="139.92" y="602.30" width="4.80" height="4.80" fill="#e8492c"/>
<rect x="161.63" y="595.17" width="4.80" height="4.80" fill="#e8492c"/>
<rect x="183.34" y="580.93" width="4.80" height="4.80" fill="#e8492c"/>
<rect x="205.04" y="563.37" width="4.80" height="4.80" fill="#e8492c"/>
<polyline points="33.80,616.40 55.50,613.60 84.44,612.84 98.92,613.86 142.32,607.11 164.03,600.63 185.74,586.13 207.44,568.32" fill="none" stroke="#c4128c" stroke-width="1.2"/>
<rect x="31.40" y="614.00" width="4.80" height="4.80" fill="#c4128c"/>
<rect x="53.10" y="611.20" width="4.80" height="4.80" fill="#c4128c"/>
<rect x="82.04" y="610.44" width="4.80" height="4.80" fill="#c4128c"/>
<rect x="96.52" y="611.46" width="4.80" height="4.80" fill="#c4128c"/>
<rect x="139.92" y="604.71" width="4.80" height="4.80" fill="#c4128c"/>
<rect x="161.63" y="598.23" width="4.80" height="4.80" fill="#c4128c"/>
<rect x="183.34" y="583.73" width="4.80" height="4.80" fill="#c4128c"/>
<rect x="205.04" y="565.92" width="4.80" height="4.80" fill="#c4128c"/>
<line x1="33.9" y1="520.4" x2="33.9" y2="649.0" stroke="#1a1a1a" stroke-width="1.3"/>
<line x1="33.3" y1="648.4" x2="215.4" y2="648.4" stroke="#1a1a1a" stroke-width="1.3"/>
<line x1="31.099999999999998" y1="648.20" x2="33.9" y2="648.20" stroke="#222" stroke-width="0.9"/>
<text x="28.4" y="651.00" font-size="7.9" text-anchor="end" fill="#222" stroke="#222" stroke-width="0.22">0</text>
<line x1="31.099999999999998" y1="635.48" x2="33.9" y2="635.48" stroke="#222" stroke-width="0.9"/>
<text x="28.4" y="638.28" font-size="7.9" text-anchor="end" fill="#222" stroke="#222" stroke-width="0.22">100</text>
<line x1="31.099999999999998" y1="622.76" x2="33.9" y2="622.76" stroke="#222" stroke-width="0.9"/>
<text x="28.4" y="625.56" font-size="7.9" text-anchor="end" fill="#222" stroke="#222" stroke-width="0.22">200</text>
<line x1="31.099999999999998" y1="610.04" x2="33.9" y2="610.04" stroke="#222" stroke-width="0.9"/>
<text x="28.4" y="612.84" font-size="7.9" text-anchor="end" fill="#222" stroke="#222" stroke-width="0.22">300</text>
<line x1="31.099999999999998" y1="597.32" x2="33.9" y2="597.32" stroke="#222" stroke-width="0.9"/>
<text x="28.4" y="600.12" font-size="7.9" text-anchor="end" fill="#222" stroke="#222" stroke-width="0.22">400</text>
<line x1="31.099999999999998" y1="584.60" x2="33.9" y2="584.60" stroke="#222" stroke-width="0.9"/>
<text x="28.4" y="587.40" font-size="7.9" text-anchor="end" fill="#222" stroke="#222" stroke-width="0.22">500</text>
<line x1="31.099999999999998" y1="571.88" x2="33.9" y2="571.88" stroke="#222" stroke-width="0.9"/>
<text x="28.4" y="574.68" font-size="7.9" text-anchor="end" fill="#222" stroke="#222" stroke-width="0.22">600</text>
<line x1="31.099999999999998" y1="559.16" x2="33.9" y2="559.16" stroke="#222" stroke-width="0.9"/>
<text x="28.4" y="561.96" font-size="7.9" text-anchor="end" fill="#222" stroke="#222" stroke-width="0.22">700</text>
<line x1="31.099999999999998" y1="546.44" x2="33.9" y2="546.44" stroke="#222" stroke-width="0.9"/>
<text x="28.4" y="549.24" font-size="7.9" text-anchor="end" fill="#222" stroke="#222" stroke-width="0.22">800</text>
<line x1="31.099999999999998" y1="533.72" x2="33.9" y2="533.72" stroke="#222" stroke-width="0.9"/>
<text x="28.4" y="536.52" font-size="7.9" text-anchor="end" fill="#222" stroke="#222" stroke-width="0.22">900</text>
<line x1="31.099999999999998" y1="521.00" x2="33.9" y2="521.00" stroke="#222" stroke-width="0.9"/>
<text x="28.4" y="523.80" font-size="7.9" text-anchor="end" fill="#222" stroke="#222" stroke-width="0.22">1,000</text>
<line x1="33.80" y1="648.4" x2="33.80" y2="651.1999999999999" stroke="#222" stroke-width="0.9"/>
<text x="33.80" y="659.4" font-size="6.4" text-anchor="middle" fill="#222" stroke="#222" stroke-width="0.08">0</text>
<line x1="69.97" y1="648.4" x2="69.97" y2="651.1999999999999" stroke="#222" stroke-width="0.9"/>
<text x="69.97" y="659.4" font-size="6.4" text-anchor="middle" fill="#222" stroke="#222" stroke-width="0.08">5</text>
<line x1="106.15" y1="648.4" x2="106.15" y2="651.1999999999999" stroke="#222" stroke-width="0.9"/>
<text x="106.15" y="659.4" font-size="6.4" text-anchor="middle" fill="#222" stroke="#222" stroke-width="0.08">10</text>
<line x1="142.32" y1="648.4" x2="142.32" y2="651.1999999999999" stroke="#222" stroke-width="0.9"/>
<text x="142.32" y="659.4" font-size="6.4" text-anchor="middle" fill="#222" stroke="#222" stroke-width="0.08">15</text>
<line x1="178.50" y1="648.4" x2="178.50" y2="651.1999999999999" stroke="#222" stroke-width="0.9"/>
<text x="178.50" y="659.4" font-size="6.4" text-anchor="middle" fill="#222" stroke="#222" stroke-width="0.08">20</text>
<line x1="214.68" y1="648.4" x2="214.68" y2="651.1999999999999" stroke="#222" stroke-width="0.9"/>
<text x="214.68" y="659.4" font-size="6.4" text-anchor="middle" fill="#222" stroke="#222" stroke-width="0.08">25</text>
<text x="126.6" y="670.0" font-size="7.5" text-anchor="middle" fill="#222" stroke="#222" stroke-width="0.22">Days</text>
<text transform="translate(6.6 585.4) rotate(-90)" font-size="8" text-anchor="middle" fill="#222" stroke="#222" stroke-width="0.2">Tumor volume (mm<tspan font-size="4.6" dy="-2.4">3</tspan><tspan dy="2.4">)</tspan></text>
<line x1="53.4" y1="523.0" x2="67.6" y2="523.0" stroke="#b4b4b4" stroke-width="1.1" stroke-dasharray="1.6 1.4"/>
<path d="M60.5 520.60l2.8 2.4l-2.8 2.4l-2.8 -2.4z" fill="#b4b4b4"/>
<text x="75.0" y="525.1" font-size="6.2" text-anchor="start" fill="#222" stroke="#222" stroke-width="0.08">Vehicle</text>
<line x1="53.4" y1="531.2" x2="67.6" y2="531.2" stroke="#c4128c" stroke-width="1.1"/>
<rect x="58.10" y="529.00" width="4.80" height="4.40" fill="#c4128c"/>
<text x="75.0" y="533.3000000000001" font-size="6.2" text-anchor="start" fill="#222" stroke="#222" stroke-width="0.08">1 mg/kg</text>
<line x1="53.4" y1="539.4" x2="67.6" y2="539.4" stroke="#e8492c" stroke-width="1.1"/>
<rect x="58.10" y="537.20" width="4.80" height="4.40" fill="#e8492c"/>
<text x="75.0" y="541.5" font-size="6.2" text-anchor="start" fill="#222" stroke="#222" stroke-width="0.08">3 mg/kg</text>
<line x1="53.4" y1="547.6" x2="67.6" y2="547.6" stroke="#2a8acb" stroke-width="1.1"/>
<rect x="58.10" y="545.40" width="4.80" height="4.40" fill="#2a8acb"/>
<text x="75.0" y="549.7" font-size="6.2" text-anchor="start" fill="#222" stroke="#222" stroke-width="0.08">10 mg/kg</text>
<line x1="53.4" y1="555.8" x2="67.6" y2="555.8" stroke="#6dbd45" stroke-width="1.1"/>
<rect x="58.10" y="553.60" width="4.80" height="4.40" fill="#6dbd45"/>
<text x="75.0" y="557.9" font-size="6.2" text-anchor="start" fill="#222" stroke="#222" stroke-width="0.08">30 mg/kg</text>
</g>
<g id="panelG">
<text x="243.7" y="507.9" font-size="15" text-anchor="start" fill="#111" stroke="#111" stroke-width="0.22" font-weight="bold">G</text>
<rect x="281.10" y="550.74" width="7.00" height="97.46" fill="#b5128a"/>
<path d="M284.60 550.74V536.09M282.80 550.74h3.6M282.80 536.09h3.6" stroke="#333" stroke-width="0.7" fill="none"/>
<rect x="294.22" y="615.71" width="7.00" height="32.49" fill="#6b5347"/>
<path d="M297.72 621.13V610.62M295.92 621.13h3.6M295.92 610.62h3.6" stroke="#333" stroke-width="0.7" fill="none"/>
<text x="297.72" y="607.60" font-size="6" text-anchor="middle" fill="#444" stroke="#444" stroke-width="0.08">67%</text>
<rect x="307.34" y="617.94" width="7.00" height="30.26" fill="#6b5347"/>
<path d="M310.84 618.90V616.99M309.04 618.90h3.6M309.04 616.99h3.6" stroke="#333" stroke-width="0.7" fill="none"/>
<text x="310.84" y="612.80" font-size="6" text-anchor="middle" fill="#444" stroke="#444" stroke-width="0.08">68%</text>
<rect x="320.46" y="615.71" width="7.00" height="32.49" fill="#6b5347"/>
<path d="M323.96 623.68V608.71M322.16 623.68h3.6M322.16 608.71h3.6" stroke="#333" stroke-width="0.7" fill="none"/>
<text x="323.96" y="607.60" font-size="6" text-anchor="middle" fill="#444" stroke="#444" stroke-width="0.08">67%</text>
<rect x="333.58" y="605.84" width="7.00" height="42.36" fill="#6b5347"/>
<path d="M337.08 610.94V601.06M335.28 610.94h3.6M335.28 601.06h3.6" stroke="#333" stroke-width="0.7" fill="none"/>
<text x="337.08" y="589.60" font-size="6" text-anchor="middle" fill="#444" stroke="#444" stroke-width="0.08">56%</text>
<rect x="346.70" y="591.51" width="7.00" height="56.69" fill="#6b5347"/>
<path d="M350.20 595.33V588.00M348.40 595.33h3.6M348.40 588.00h3.6" stroke="#333" stroke-width="0.7" fill="none"/>
<text x="350.20" y="585.80" font-size="6" text-anchor="middle" fill="#444" stroke="#444" stroke-width="0.08">41%</text>
<rect x="359.82" y="585.77" width="7.00" height="62.43" fill="#6b5347"/>
<path d="M363.32 591.83V580.68M361.52 591.83h3.6M361.52 580.68h3.6" stroke="#333" stroke-width="0.7" fill="none"/>
<text x="363.32" y="579.00" font-size="6" text-anchor="middle" fill="#444" stroke="#444" stroke-width="0.08">36%</text>
<rect x="372.94" y="563.16" width="7.00" height="85.04" fill="#6b5347"/>
<path d="M376.44 581.32V545.64M374.64 581.32h3.6M374.64 545.64h3.6" stroke="#333" stroke-width="0.7" fill="none"/>
<text x="376.44" y="543.44" font-size="6" text-anchor="middle" fill="#444" stroke="#444" stroke-width="0.08">13%</text>
<rect x="386.06" y="624.31" width="7.00" height="23.89" fill="#ececec" stroke="#444" stroke-width="0.7"/>
<path d="M389.56 628.45V619.85M387.76 628.45h3.6M387.76 619.85h3.6" stroke="#333" stroke-width="0.7" fill="none"/>
<text x="389.56" y="617.65" font-size="6" text-anchor="middle" fill="#444" stroke="#444" stroke-width="0.08">75%</text>
<rect x="399.18" y="628.45" width="7.00" height="19.75" fill="#ececec" stroke="#444" stroke-width="0.7"/>
<path d="M402.68 632.28V624.63M400.88 632.28h3.6M400.88 624.63h3.6" stroke="#333" stroke-width="0.7" fill="none"/>
<text x="402.68" y="622.80" font-size="6" text-anchor="middle" fill="#444" stroke="#444" stroke-width="0.08">80%</text>
<rect x="412.30" y="620.17" width="7.00" height="28.03" fill="#ececec" stroke="#444" stroke-width="0.7"/>
<path d="M415.80 625.27V614.76M414.00 625.27h3.6M414.00 614.76h3.6" stroke="#333" stroke-width="0.7" fill="none"/>
<text x="415.80" y="613.80" font-size="6" text-anchor="middle" fill="#444" stroke="#444" stroke-width="0.08">71%</text>
<rect x="425.42" y="614.44" width="7.00" height="33.76" fill="#ececec" stroke="#444" stroke-width="0.7"/>
<path d="M428.92 616.99V611.25M427.12 616.99h3.6M427.12 611.25h3.6" stroke="#333" stroke-width="0.7" fill="none"/>
<text x="428.92" y="609.60" font-size="6" text-anchor="middle" fill="#444" stroke="#444" stroke-width="0.08">65%</text>
<rect x="438.54" y="605.84" width="7.00" height="42.36" fill="#ececec" stroke="#444" stroke-width="0.7"/>
<path d="M442.04 606.48V603.93M440.24 606.48h3.6M440.24 603.93h3.6" stroke="#333" stroke-width="0.7" fill="none"/>
<text x="442.04" y="602.00" font-size="6" text-anchor="middle" fill="#444" stroke="#444" stroke-width="0.08">56%</text>
<rect x="451.66" y="588.96" width="7.00" height="59.24" fill="#ececec" stroke="#444" stroke-width="0.7"/>
<path d="M455.16 609.98V568.58M453.36 609.98h3.6M453.36 568.58h3.6" stroke="#333" stroke-width="0.7" fill="none"/>
<text x="455.16" y="567.00" font-size="6" text-anchor="middle" fill="#444" stroke="#444" stroke-width="0.08">39%</text>
<rect x="464.78" y="552.65" width="7.00" height="95.55" fill="#ececec" stroke="#444" stroke-width="0.7"/>
<path d="M468.28 557.43V547.55M466.48 557.43h3.6M466.48 547.55h3.6" stroke="#333" stroke-width="0.7" fill="none"/>
<text x="468.28" y="544.60" font-size="6" text-anchor="middle" fill="#444" stroke="#444" stroke-width="0.08">1%</text>
<path d="M297.72 592.84V588.86M296.12 592.84h3.2M296.12 588.86h3.2" stroke="#222" stroke-width="0.7" fill="none"/>
<circle cx="297.72" cy="590.83" r="1.35" fill="#2a8acb"/>
<path d="M297.72 588.24l1.7 3h-3.4z" fill="#e8492c"/>
<circle cx="310.84" cy="597.54" r="1.35" fill="#2a8acb"/>
<path d="M310.84 590.09l1.7 3h-3.4z" fill="#e8492c"/>
<circle cx="323.96" cy="597.54" r="1.35" fill="#2a8acb"/>
<path d="M323.96 592.06l1.7 3h-3.4z" fill="#e8492c"/>
<path d="M337.08 604.98V592.48M335.48 604.98h3.2M335.48 592.48h3.2" stroke="#222" stroke-width="0.7" fill="none"/>
<path d="M337.08 596.06V605.86" stroke="#2a8acb" stroke-width="1.8" fill="none"/>
<circle cx="337.08" cy="601.26" r="1.35" fill="#2a8acb"/>
<path d="M337.08 595.29l1.7 3h-3.4z" fill="#e8492c"/>
<path d="M350.20 604.98V599.12M348.60 604.98h3.2M348.60 599.12h3.2" stroke="#222" stroke-width="0.7" fill="none"/>
<circle cx="350.20" cy="602.08" r="1.35" fill="#2a8acb"/>
<path d="M350.20 595.29l1.7 3h-3.4z" fill="#e8492c"/>
<path d="M363.32 610.62V600.07M361.72 610.62h3.2M361.72 600.07h3.2" stroke="#222" stroke-width="0.7" fill="none"/>
<circle cx="363.32" cy="606.39" r="1.35" fill="#2a8acb"/>
<path d="M363.32 597.03l1.7 3h-3.4z" fill="#e8492c"/>
<path d="M389.56 580.70V577.52M387.96 580.70h3.2M387.96 577.52h3.2" stroke="#222" stroke-width="0.7" fill="none"/>
<circle cx="389.56" cy="579.10" r="1.35" fill="#2a8acb"/>
<path d="M389.56 576.99l1.7 3h-3.4z" fill="#e8492c"/>
<path d="M402.68 582.86V577.52M401.08 582.86h3.2M401.08 577.52h3.2" stroke="#222" stroke-width="0.7" fill="none"/>
<circle cx="402.68" cy="580.22" r="1.35" fill="#2a8acb"/>
<path d="M402.68 578.29l1.7 3h-3.4z" fill="#e8492c"/>
<path d="M415.80 591.46V579.10M414.20 591.46h3.2M414.20 579.10h3.2" stroke="#222" stroke-width="0.7" fill="none"/>
<circle cx="415.80" cy="585.18" r="1.35" fill="#2a8acb"/>
<path d="M415.80 581.94l1.7 3h-3.4z" fill="#e8492c"/>
<path d="M428.92 602.08V586.35M427.32 602.08h3.2M427.32 586.35h3.2" stroke="#222" stroke-width="0.7" fill="none"/>
<circle cx="428.92" cy="595.31" r="1.35" fill="#2a8acb"/>
<path d="M428.92 589.13l1.7 3h-3.4z" fill="#e8492c"/>
<path d="M442.04 594.85V586.76M440.44 594.85h3.2M440.44 586.76h3.2" stroke="#222" stroke-width="0.7" fill="none"/>
<circle cx="442.04" cy="591.46" r="1.35" fill="#2a8acb"/>
<path d="M442.04 587.69l1.7 3h-3.4z" fill="#e8492c"/>
<path d="M455.16 609.91V568.98M453.56 609.91h3.2M453.56 568.98h3.2" stroke="#222" stroke-width="0.7" fill="none"/>
<path d="M455.16 587.64V597.44" stroke="#2a8acb" stroke-width="1.8" fill="none"/>
<circle cx="455.16" cy="592.84" r="1.35" fill="#2a8acb"/>
<path d="M455.16 584.24l1.7 3h-3.4z" fill="#e8492c"/>
<path d="M468.28 634.05V596.07M466.68 634.05h3.2M466.68 596.07h3.2" stroke="#222" stroke-width="0.7" fill="none"/>
<path d="M468.28 603.28l1.7 3h-3.4z" fill="#e8492c"/>
<line x1="276.8" y1="520.2" x2="276.8" y2="648.8000000000001" stroke="#1a1a1a" stroke-width="1.3"/>
<line x1="475.6" y1="520.2" x2="475.6" y2="648.8000000000001" stroke="#1a1a1a" stroke-width="1.3"/>
<line x1="276.2" y1="648.2" x2="476.20000000000005" y2="648.2" stroke="#1a1a1a" stroke-width="1.3"/>
<line x1="274.0" y1="648.20" x2="276.8" y2="648.20" stroke="#222" stroke-width="0.9"/>
<text x="273.2" y="650.90" font-size="8" text-anchor="end" fill="#222" stroke="#222" stroke-width="0.22">0.00</text>
<line x1="274.0" y1="616.35" x2="276.8" y2="616.35" stroke="#222" stroke-width="0.9"/>
<text x="273.2" y="619.05" font-size="8" text-anchor="end" fill="#222" stroke="#222" stroke-width="0.22">0.01</text>
<line x1="274.0" y1="584.50" x2="276.8" y2="584.50" stroke="#222" stroke-width="0.9"/>
<text x="273.2" y="587.20" font-size="8" text-anchor="end" fill="#222" stroke="#222" stroke-width="0.22">0.02</text>
<line x1="274.0" y1="552.65" x2="276.8" y2="552.65" stroke="#222" stroke-width="0.9"/>
<text x="273.2" y="555.35" font-size="8" text-anchor="end" fill="#222" stroke="#222" stroke-width="0.22">0.03</text>
<line x1="274.0" y1="520.80" x2="276.8" y2="520.80" stroke="#222" stroke-width="0.9"/>
<text x="273.2" y="523.50" font-size="8" text-anchor="end" fill="#222" stroke="#222" stroke-width="0.22">0.04</text>
<line x1="475.6" y1="648.20" x2="478.40000000000003" y2="648.20" stroke="#222" stroke-width="0.9"/>
<text x="479.4" y="651.00" font-size="7.7" text-anchor="start" fill="#222" stroke="#222" stroke-width="0.22">1</text>
<line x1="475.6" y1="622.76" x2="478.40000000000003" y2="622.76" stroke="#222" stroke-width="0.9"/>
<text x="479.4" y="625.56" font-size="7.7" text-anchor="start" fill="#222" stroke="#222" stroke-width="0.22">10</text>
<line x1="475.6" y1="597.32" x2="478.40000000000003" y2="597.32" stroke="#222" stroke-width="0.9"/>
<text x="479.4" y="600.12" font-size="7.7" text-anchor="start" fill="#222" stroke="#222" stroke-width="0.22">100</text>
<line x1="475.6" y1="571.88" x2="478.40000000000003" y2="571.88" stroke="#222" stroke-width="0.9"/>
<text x="479.4" y="574.68" font-size="7.7" text-anchor="start" fill="#222" stroke="#222" stroke-width="0.22">1,000</text>
<line x1="475.6" y1="546.44" x2="478.40000000000003" y2="546.44" stroke="#222" stroke-width="0.9"/>
<text x="479.4" y="549.24" font-size="7.7" text-anchor="start" fill="#222" stroke="#222" stroke-width="0.22">10,000</text>
<line x1="475.6" y1="521.00" x2="478.40000000000003" y2="521.00" stroke="#222" stroke-width="0.9"/>
<text x="479.4" y="523.80" font-size="7.7" text-anchor="start" fill="#222" stroke="#222" stroke-width="0.22">100,000</text>
<line x1="276.80" y1="648.2" x2="276.80" y2="671.0" stroke="#444" stroke-width="0.7"/>
<line x1="291.16" y1="648.2" x2="291.16" y2="671.0" stroke="#444" stroke-width="0.7"/>
<line x1="304.28" y1="648.2" x2="304.28" y2="664.0" stroke="#444" stroke-width="0.7"/>
<line x1="317.40" y1="648.2" x2="317.40" y2="664.0" stroke="#444" stroke-width="0.7"/>
<line x1="330.52" y1="648.2" x2="330.52" y2="664.0" stroke="#444" stroke-width="0.7"/>
<line x1="343.64" y1="648.2" x2="343.64" y2="664.0" stroke="#444" stroke-width="0.7"/>
<line x1="356.76" y1="648.2" x2="356.76" y2="664.0" stroke="#444" stroke-width="0.7"/>
<line x1="369.88" y1="648.2" x2="369.88" y2="664.0" stroke="#444" stroke-width="0.7"/>
<line x1="383.00" y1="648.2" x2="383.00" y2="664.0" stroke="#444" stroke-width="0.7"/>
<line x1="396.12" y1="648.2" x2="396.12" y2="664.0" stroke="#444" stroke-width="0.7"/>
<line x1="409.24" y1="648.2" x2="409.24" y2="664.0" stroke="#444" stroke-width="0.7"/>
<line x1="422.36" y1="648.2" x2="422.36" y2="664.0" stroke="#444" stroke-width="0.7"/>
<line x1="435.48" y1="648.2" x2="435.48" y2="664.0" stroke="#444" stroke-width="0.7"/>
<line x1="448.60" y1="648.2" x2="448.60" y2="664.0" stroke="#444" stroke-width="0.7"/>
<line x1="461.72" y1="648.2" x2="461.72" y2="664.0" stroke="#444" stroke-width="0.7"/>
<line x1="474.84" y1="648.2" x2="474.84" y2="664.0" stroke="#444" stroke-width="0.7"/>
<text x="284.60" y="656.6" font-size="5.8" text-anchor="middle" fill="#333" stroke="#333" stroke-width="0.08">2</text>
<text x="284.60" y="663.2" font-size="5.8" text-anchor="middle" fill="#333" stroke="#333" stroke-width="0.08">hr</text>
<text x="297.72" y="656.6" font-size="5.8" text-anchor="middle" fill="#333" stroke="#333" stroke-width="0.08">1</text>
<text x="297.72" y="663.2" font-size="5.8" text-anchor="middle" fill="#333" stroke="#333" stroke-width="0.08">hr</text>
<text x="310.84" y="656.6" font-size="5.8" text-anchor="middle" fill="#333" stroke="#333" stroke-width="0.08">2</text>
<text x="310.84" y="663.2" font-size="5.8" text-anchor="middle" fill="#333" stroke="#333" stroke-width="0.08">hr</text>
<text x="323.96" y="656.6" font-size="5.8" text-anchor="middle" fill="#333" stroke="#333" stroke-width="0.08">4</text>
<text x="323.96" y="663.2" font-size="5.8" text-anchor="middle" fill="#333" stroke="#333" stroke-width="0.08">hr</text>
<text x="337.08" y="656.6" font-size="5.8" text-anchor="middle" fill="#333" stroke="#333" stroke-width="0.08">6</text>
<text x="337.08" y="663.2" font-size="5.8" text-anchor="middle" fill="#333" stroke="#333" stroke-width="0.08">hr</text>
<text x="350.20" y="656.6" font-size="5.8" text-anchor="middle" fill="#333" stroke="#333" stroke-width="0.08">8</text>
<text x="350.20" y="663.2" font-size="5.8" text-anchor="middle" fill="#333" stroke="#333" stroke-width="0.08">hr</text>
<text x="363.32" y="656.6" font-size="5.8" text-anchor="middle" fill="#333" stroke="#333" stroke-width="0.08">10</text>
<text x="363.32" y="663.2" font-size="5.8" text-anchor="middle" fill="#333" stroke="#333" stroke-width="0.08">hr</text>
<text x="376.44" y="656.6" font-size="5.8" text-anchor="middle" fill="#333" stroke="#333" stroke-width="0.08">24</text>
<text x="376.44" y="663.2" font-size="5.8" text-anchor="middle" fill="#333" stroke="#333" stroke-width="0.08">hr</text>
<text x="389.56" y="656.6" font-size="5.8" text-anchor="middle" fill="#333" stroke="#333" stroke-width="0.08">1</text>
<text x="389.56" y="663.2" font-size="5.8" text-anchor="middle" fill="#333" stroke="#333" stroke-width="0.08">hr</text>
<text x="402.68" y="656.6" font-size="5.8" text-anchor="middle" fill="#333" stroke="#333" stroke-width="0.08">2</text>
<text x="402.68" y="663.2" font-size="5.8" text-anchor="middle" fill="#333" stroke="#333" stroke-width="0.08">hr</text>
<text x="415.80" y="656.6" font-size="5.8" text-anchor="middle" fill="#333" stroke="#333" stroke-width="0.08">4</text>
<text x="415.80" y="663.2" font-size="5.8" text-anchor="middle" fill="#333" stroke="#333" stroke-width="0.08">hr</text>
<text x="428.92" y="656.6" font-size="5.8" text-anchor="middle" fill="#333" stroke="#333" stroke-width="0.08">6</text>
<text x="428.92" y="663.2" font-size="5.8" text-anchor="middle" fill="#333" stroke="#333" stroke-width="0.08">hr</text>
<text x="442.04" y="656.6" font-size="5.8" text-anchor="middle" fill="#333" stroke="#333" stroke-width="0.08">8</text>
<text x="442.04" y="663.2" font-size="5.8" text-anchor="middle" fill="#333" stroke="#333" stroke-width="0.08">hr</text>
<text x="455.16" y="656.6" font-size="5.8" text-anchor="middle" fill="#333" stroke="#333" stroke-width="0.08">10</text>
<text x="455.16" y="663.2" font-size="5.8" text-anchor="middle" fill="#333" stroke="#333" stroke-width="0.08">hr</text>
<text x="468.28" y="656.6" font-size="5.8" text-anchor="middle" fill="#333" stroke="#333" stroke-width="0.08">24</text>
<text x="468.28" y="663.2" font-size="5.8" text-anchor="middle" fill="#333" stroke="#333" stroke-width="0.08">hr</text>
<text x="284.60" y="669.8" font-size="5.8" text-anchor="middle" fill="#333" stroke="#333" stroke-width="0.08">Veh</text>
<text x="337.6" y="675.9" font-size="6.5" text-anchor="middle" fill="#333" stroke="#333" stroke-width="0.08">3 mg/kg</text>
<text x="428.8" y="675.9" font-size="6.5" text-anchor="middle" fill="#333" stroke="#333" stroke-width="0.08">10 mg/kg</text>
<rect x="414.40" y="528.90" width="3.20" height="3.30" fill="#4a2350"/>
<text x="420.0" y="532.5" font-size="6.2" text-anchor="start" fill="#222" stroke="#222" stroke-width="0.08">P/T (AKT)</text>
<circle cx="416.0" cy="538.9" r="1.15" fill="#2a7fb8"/>
<text x="420.0" y="540.7" font-size="6.2" text-anchor="start" fill="#222" stroke="#222" stroke-width="0.08">Blood</text>
<path d="M416.0 546.0l1.5 2.6h-3z" fill="#e8492c"/>
<text x="420.0" y="548.9" font-size="6.2" text-anchor="start" fill="#222" stroke="#222" stroke-width="0.08">Tumor</text>
<text transform="translate(251.4 585.4) rotate(-90)" font-size="8.3" text-anchor="middle" fill="#222" stroke="#222" stroke-width="0.2">Ratio of phospho-Akt/total Akt levels</text>
<text transform="translate(516.4 584.4) rotate(-90)" font-size="8.2" text-anchor="middle" fill="#222" stroke="#222" stroke-width="0.2">Blood or tumor Conc. (ng/ml or ng/g)</text>
</g>
</svg>
</body></html>
